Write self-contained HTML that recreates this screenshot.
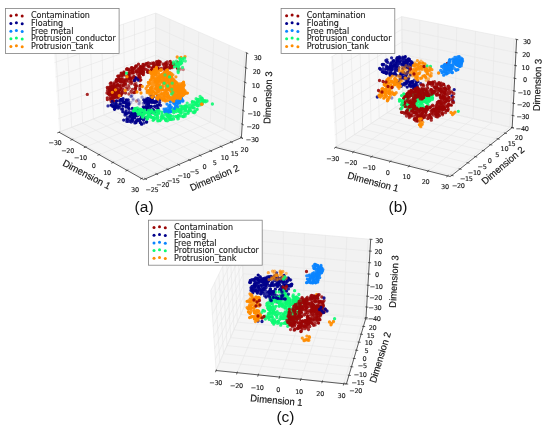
<!DOCTYPE html>
<html><head><meta charset="utf-8"><title>t-SNE 3D scatter</title>
<style>
html,body{margin:0;padding:0;background:#fff}
svg{display:block}
text{font-family:"DejaVu Sans","Liberation Sans",sans-serif;fill:#1a1a1a}
.tk{font-size:6.5px;text-anchor:middle;letter-spacing:-0.3px;stroke:#1a1a1a;stroke-width:0.15px}
.lg{font-size:8px;stroke:#1a1a1a;stroke-width:0.12px}
.al{font-family:"Liberation Sans",Arial,sans-serif;font-size:9.7px;fill:#111;text-anchor:middle;stroke:#111;stroke-width:0.15px}
.cap{font-family:"Liberation Sans",Arial,sans-serif;font-size:15.5px;fill:#111;text-anchor:middle}
</style></head><body>
<svg width="550" height="433" viewBox="0 0 550 433">
<rect width="550" height="433" fill="#fff"/>
<polygon points="59,132.2 155.4,95.1 155.7,13.1 53.7,47.8" fill="#f8f8f8"/>
<polygon points="155.4,95.1 241.4,137.7 246.7,52.9 155.7,13.1" fill="#f2f2f2"/>
<polygon points="59,132.2 143.6,179.6 241.4,137.7 155.4,95.1" fill="#f5f5f5"/>
<line x1="59" y1="132.2" x2="155.4" y2="95.1" stroke="#e6e6e6" stroke-width="0.6"/>
<line x1="155.4" y1="95.1" x2="155.7" y2="13.1" stroke="#e6e6e6" stroke-width="0.6"/>
<line x1="72.1" y1="139.6" x2="168.8" y2="101.7" stroke="#e6e6e6" stroke-width="0.6"/>
<line x1="168.8" y1="101.7" x2="169.8" y2="19.3" stroke="#e6e6e6" stroke-width="0.6"/>
<line x1="85.4" y1="147" x2="182.4" y2="108.4" stroke="#e6e6e6" stroke-width="0.6"/>
<line x1="182.4" y1="108.4" x2="184.2" y2="25.6" stroke="#e6e6e6" stroke-width="0.6"/>
<line x1="99.1" y1="154.7" x2="196.2" y2="115.3" stroke="#e6e6e6" stroke-width="0.6"/>
<line x1="196.2" y1="115.3" x2="198.8" y2="32" stroke="#e6e6e6" stroke-width="0.6"/>
<line x1="113" y1="162.4" x2="210.3" y2="122.3" stroke="#e6e6e6" stroke-width="0.6"/>
<line x1="210.3" y1="122.3" x2="213.8" y2="38.5" stroke="#e6e6e6" stroke-width="0.6"/>
<line x1="127.2" y1="170.4" x2="224.8" y2="129.4" stroke="#e6e6e6" stroke-width="0.6"/>
<line x1="224.8" y1="129.4" x2="229.1" y2="45.2" stroke="#e6e6e6" stroke-width="0.6"/>
<line x1="141.7" y1="178.5" x2="239.4" y2="136.7" stroke="#e6e6e6" stroke-width="0.6"/>
<line x1="239.4" y1="136.7" x2="244.7" y2="52" stroke="#e6e6e6" stroke-width="0.6"/>
<line x1="60.7" y1="131.6" x2="145.4" y2="178.8" stroke="#e6e6e6" stroke-width="0.6"/>
<line x1="60.7" y1="131.6" x2="55.5" y2="47.2" stroke="#e6e6e6" stroke-width="0.6"/>
<line x1="71.7" y1="127.3" x2="156.6" y2="174" stroke="#e6e6e6" stroke-width="0.6"/>
<line x1="71.7" y1="127.3" x2="67.2" y2="43.2" stroke="#e6e6e6" stroke-width="0.6"/>
<line x1="82.6" y1="123.1" x2="167.6" y2="169.3" stroke="#e6e6e6" stroke-width="0.6"/>
<line x1="82.6" y1="123.1" x2="78.7" y2="39.3" stroke="#e6e6e6" stroke-width="0.6"/>
<line x1="93.3" y1="119" x2="178.5" y2="164.6" stroke="#e6e6e6" stroke-width="0.6"/>
<line x1="93.3" y1="119" x2="90.1" y2="35.4" stroke="#e6e6e6" stroke-width="0.6"/>
<line x1="104" y1="114.9" x2="189.3" y2="160" stroke="#e6e6e6" stroke-width="0.6"/>
<line x1="104" y1="114.9" x2="101.4" y2="31.6" stroke="#e6e6e6" stroke-width="0.6"/>
<line x1="114.5" y1="110.9" x2="200" y2="155.4" stroke="#e6e6e6" stroke-width="0.6"/>
<line x1="114.5" y1="110.9" x2="112.5" y2="27.8" stroke="#e6e6e6" stroke-width="0.6"/>
<line x1="124.9" y1="106.9" x2="210.5" y2="150.9" stroke="#e6e6e6" stroke-width="0.6"/>
<line x1="124.9" y1="106.9" x2="123.5" y2="24.1" stroke="#e6e6e6" stroke-width="0.6"/>
<line x1="135.2" y1="102.9" x2="220.9" y2="146.4" stroke="#e6e6e6" stroke-width="0.6"/>
<line x1="135.2" y1="102.9" x2="134.4" y2="20.4" stroke="#e6e6e6" stroke-width="0.6"/>
<line x1="145.3" y1="99" x2="231.2" y2="142" stroke="#e6e6e6" stroke-width="0.6"/>
<line x1="145.3" y1="99" x2="145.1" y2="16.7" stroke="#e6e6e6" stroke-width="0.6"/>
<line x1="155.4" y1="95.1" x2="241.4" y2="137.7" stroke="#e6e6e6" stroke-width="0.6"/>
<line x1="155.4" y1="95.1" x2="155.7" y2="13.1" stroke="#e6e6e6" stroke-width="0.6"/>
<line x1="59" y1="132.2" x2="155.4" y2="95.1" stroke="#e6e6e6" stroke-width="0.6"/>
<line x1="155.4" y1="95.1" x2="241.4" y2="137.7" stroke="#e6e6e6" stroke-width="0.6"/>
<line x1="58.1" y1="118.8" x2="155.5" y2="82" stroke="#e6e6e6" stroke-width="0.6"/>
<line x1="155.5" y1="82" x2="242.2" y2="124.2" stroke="#e6e6e6" stroke-width="0.6"/>
<line x1="57.3" y1="105.1" x2="155.5" y2="68.7" stroke="#e6e6e6" stroke-width="0.6"/>
<line x1="155.5" y1="68.7" x2="243.1" y2="110.5" stroke="#e6e6e6" stroke-width="0.6"/>
<line x1="56.4" y1="91.2" x2="155.6" y2="55.2" stroke="#e6e6e6" stroke-width="0.6"/>
<line x1="155.6" y1="55.2" x2="244" y2="96.5" stroke="#e6e6e6" stroke-width="0.6"/>
<line x1="55.5" y1="77" x2="155.6" y2="41.4" stroke="#e6e6e6" stroke-width="0.6"/>
<line x1="155.6" y1="41.4" x2="244.9" y2="82.2" stroke="#e6e6e6" stroke-width="0.6"/>
<line x1="54.6" y1="62.6" x2="155.7" y2="27.4" stroke="#e6e6e6" stroke-width="0.6"/>
<line x1="155.7" y1="27.4" x2="245.8" y2="67.7" stroke="#e6e6e6" stroke-width="0.6"/>
<line x1="53.7" y1="47.8" x2="155.7" y2="13.1" stroke="#e6e6e6" stroke-width="0.6"/>
<line x1="155.7" y1="13.1" x2="246.7" y2="52.9" stroke="#e6e6e6" stroke-width="0.6"/>
<line x1="59" y1="132.2" x2="143.6" y2="179.6" stroke="#333" stroke-width="0.8"/>
<line x1="143.6" y1="179.6" x2="241.4" y2="137.7" stroke="#333" stroke-width="0.8"/>
<line x1="241.4" y1="137.7" x2="246.7" y2="52.9" stroke="#333" stroke-width="0.8"/>
<line x1="60.1" y1="131.8" x2="57.3" y2="132.9" stroke="#333" stroke-width="0.8"/>
<text class="tk" x="55" y="145.2">−30</text>
<line x1="73.2" y1="139.1" x2="70.4" y2="140.3" stroke="#333" stroke-width="0.8"/>
<text class="tk" x="67.6" y="152.6">−20</text>
<line x1="86.5" y1="146.6" x2="83.8" y2="147.8" stroke="#333" stroke-width="0.8"/>
<text class="tk" x="80.5" y="160">−10</text>
<line x1="100.2" y1="154.2" x2="97.4" y2="155.4" stroke="#333" stroke-width="0.8"/>
<text class="tk" x="93.7" y="167.7">0</text>
<line x1="114.1" y1="162" x2="111.3" y2="163.2" stroke="#333" stroke-width="0.8"/>
<text class="tk" x="107.1" y="175.4">10</text>
<line x1="128.3" y1="169.9" x2="125.5" y2="171.1" stroke="#333" stroke-width="0.8"/>
<text class="tk" x="120.9" y="183.4">20</text>
<line x1="142.8" y1="178" x2="140" y2="179.2" stroke="#333" stroke-width="0.8"/>
<text class="tk" x="134.9" y="191.5">30</text>
<line x1="144.3" y1="178.2" x2="146.9" y2="179.7" stroke="#333" stroke-width="0.8"/>
<text class="tk" x="151.9" y="192">−25</text>
<line x1="155.5" y1="173.4" x2="158.1" y2="174.9" stroke="#333" stroke-width="0.8"/>
<text class="tk" x="162.7" y="187.3">−20</text>
<line x1="166.6" y1="168.7" x2="169.2" y2="170.2" stroke="#333" stroke-width="0.8"/>
<text class="tk" x="173.3" y="182.6">−15</text>
<line x1="177.5" y1="164" x2="180.1" y2="165.5" stroke="#333" stroke-width="0.8"/>
<text class="tk" x="183.9" y="178">−10</text>
<line x1="188.3" y1="159.4" x2="190.9" y2="160.9" stroke="#333" stroke-width="0.8"/>
<text class="tk" x="194.3" y="173.5">−5</text>
<line x1="198.9" y1="154.8" x2="201.5" y2="156.3" stroke="#333" stroke-width="0.8"/>
<text class="tk" x="204.5" y="169">0</text>
<line x1="209.5" y1="150.3" x2="212.1" y2="151.8" stroke="#333" stroke-width="0.8"/>
<text class="tk" x="214.7" y="164.6">5</text>
<line x1="219.9" y1="145.9" x2="222.5" y2="147.3" stroke="#333" stroke-width="0.8"/>
<text class="tk" x="224.7" y="160.2">10</text>
<line x1="230.2" y1="141.4" x2="232.8" y2="142.9" stroke="#333" stroke-width="0.8"/>
<text class="tk" x="234.6" y="155.9">15</text>
<line x1="240.3" y1="137.1" x2="243" y2="138.5" stroke="#333" stroke-width="0.8"/>
<text class="tk" x="244.4" y="151.6">20</text>
<line x1="240.3" y1="137.1" x2="243" y2="138.5" stroke="#333" stroke-width="0.8"/>
<text class="tk" x="252.2" y="142.2">−30</text>
<line x1="241.2" y1="123.7" x2="243.8" y2="125" stroke="#333" stroke-width="0.8"/>
<text class="tk" x="253" y="129.1">−20</text>
<line x1="242" y1="109.9" x2="244.7" y2="111.3" stroke="#333" stroke-width="0.8"/>
<text class="tk" x="253.9" y="115.7">−10</text>
<line x1="242.9" y1="96" x2="245.6" y2="97.3" stroke="#333" stroke-width="0.8"/>
<text class="tk" x="254.8" y="102.1">0</text>
<line x1="243.8" y1="81.7" x2="246.5" y2="83" stroke="#333" stroke-width="0.8"/>
<text class="tk" x="255.7" y="88.3">10</text>
<line x1="244.7" y1="67.2" x2="247.4" y2="68.5" stroke="#333" stroke-width="0.8"/>
<text class="tk" x="256.6" y="74.1">20</text>
<line x1="245.7" y1="52.4" x2="248.3" y2="53.7" stroke="#333" stroke-width="0.8"/>
<text class="tk" x="257.5" y="59.7">30</text>
<text class="al" transform="translate(86.8,174.4) rotate(27.5)" y="3.45" textLength="52.5" lengthAdjust="spacingAndGlyphs">Dimension 1</text>
<text class="al" transform="translate(214.3,177.7) rotate(-23.6)" y="3.45" textLength="52.5" lengthAdjust="spacingAndGlyphs">Dimension 2</text>
<text class="al" transform="translate(267.8,97.7) rotate(-88)" y="3.45" textLength="52.5" lengthAdjust="spacingAndGlyphs">Dimension 3</text>
<g stroke="#9a0505" stroke-width="3.3" stroke-linecap="round" fill="none"><path stroke-opacity="0.4" d="M178.8 68.7h0"/><path stroke-opacity="0.45" d="M131.5 77h0M134 76.6h0M178.7 70.7h0M183.3 69.6h0M180.6 69.2h0M128.8 105.3h0M136.6 101h0"/><path stroke-opacity="0.5" d="M134.8 84.5h0M134 73h0M121.8 90.5h0M120.9 87.2h0M178.3 68.4h0"/><path stroke-opacity="0.55" d="M131.1 81.4h0M139.6 87.2h0M122.5 78.4h0"/><path stroke-opacity="0.6" d="M125.3 86.4h0M125.5 82.5h0M125.3 85.7h0M137.1 85.8h0M131.9 82.3h0"/><path stroke-opacity="0.65" d="M125.3 80.4h0M135.2 79.4h0M129.3 88.1h0M127.7 89.5h0M135.9 83.2h0"/><path stroke-opacity="0.7" d="M145.1 64.2h0M128.9 73.2h0M137.8 71.8h0M138.1 69h0M177 64.1h0M129.4 78.5h0M158.7 63.2h0M119.4 86.1h0M143.9 64.5h0M157.6 65.1h0M111.4 87h0M122.2 74.4h0M151.8 63.1h0M128.9 94h0M134.7 84.6h0M124.4 83.8h0M130.3 73.7h0"/><path stroke-opacity="0.75" d="M109.1 92.7h0M165.6 64.1h0M137.4 74h0M121.1 84.8h0M123.6 73.2h0M159.6 62.1h0M166.7 65.9h0M131.2 81.1h0M126.1 79.9h0M112.8 94.8h0M111.7 86.4h0M133.1 70.3h0M117.2 84.8h0M143.6 67.4h0M126.3 81h0M118.8 77.8h0M139.7 74.3h0M136.9 66.2h0M157.2 64.4h0M130 76.9h0M109.6 88.6h0M116.3 88.2h0M167.1 65.7h0M143.6 68.9h0M159.3 62.3h0M132.9 73.1h0M140.3 73.6h0M121.6 82.2h0M147.1 63.4h0M114.5 91h0M125 81.1h0M123.9 71.9h0M115.2 96h0M118.7 80.9h0M116.7 95.3h0M113.9 82.8h0M165 68.5h0M128.5 74h0M172.2 67.7h0M166 67.4h0M146.2 65.2h0M148.5 66.6h0M112.3 86.5h0M163 64h0M113.6 91.5h0M114.7 88.9h0M113.8 98.1h0M116.4 96.8h0M134.9 89h0M128.8 85.7h0M126.8 88.1h0M140.6 85.9h0"/><path stroke-opacity="0.8" d="M107.7 88.5h0M128.4 81.2h0M139.5 68.8h0M156.7 66h0M117.6 84.4h0M152.8 64.1h0M143.2 71.6h0M135.5 66.6h0M116.7 80.9h0M124.1 72.8h0M110.6 92.4h0M110.2 83.6h0M120.2 81.9h0M167.2 61.8h0M161.2 68.5h0M128 76.6h0M157.7 68.4h0M173.1 65h0M142.1 67.5h0M137.7 69.9h0M117 93h0M131.8 67.7h0M153.8 67.2h0M146.3 63.7h0M158.6 64.6h0M158 64.7h0M167.9 63.3h0M110.4 92.3h0M119.7 85.3h0M149.6 66.9h0M141.4 70.7h0M143.9 65.7h0M132.3 72.8h0M136.4 71.4h0M129.9 78.7h0M151.8 70.3h0M148.3 72.4h0M128.5 73.7h0M139.1 75.6h0M116.4 81.8h0M107.5 90.4h0M110.4 99.6h0M113 87.5h0M119 93.5h0M115.9 90.2h0M109.6 93.2h0M111.2 101.6h0M113.4 88.4h0M112.4 97h0M114.8 96.2h0M115 97.7h0M116.5 96.9h0M115.7 89.6h0M139.8 80.8h0M131.4 83.6h0M130.1 82.7h0M135.7 86.1h0M130.2 82.3h0M131 91.5h0M122.9 89.1h0M132.4 89.3h0M135.4 87.6h0M131.6 92.3h0"/><path stroke-opacity="0.85" d="M110.2 94.6h0M148.3 62.8h0M166.8 68.1h0M149.9 63.7h0M124.2 80h0M154.2 66.1h0M107.3 87.5h0M150.5 71h0M147.4 72h0M119.3 79h0M133.8 76.3h0M156.5 63.9h0M142.8 69.2h0M159.4 69.6h0M141.7 71.7h0M109.4 91.4h0M120.1 81.3h0M147.7 72h0M152 68.2h0M126.5 69.4h0M118.5 79.8h0M163.9 64.6h0M129 69.1h0M123.8 72.8h0M153.7 70.5h0M113.1 87.2h0M110.5 86.3h0M153.5 69.1h0M141.7 67.8h0M113.5 94h0M154.8 69.9h0M118.2 86.1h0M143.5 70.9h0M133.5 69.3h0M169.1 67.4h0M123.3 84.9h0M164.5 69.3h0M131.5 69.9h0M134.8 68.4h0M117.7 76.1h0M115.6 85.8h0M166.1 64.7h0M167.1 70.1h0M136.5 71.8h0M115.4 96.9h0M115.6 95.2h0M109.6 90.8h0M110.1 97.8h0M107 93h0M118.2 97.9h0M110 93.5h0M112.1 91.1h0M119.8 93h0M121.5 94h0M115.1 96.5h0M113.6 90.3h0M112.7 97.5h0M108.2 93.5h0M111.6 95h0M109 89.7h0M110.1 95.9h0M119.1 96.1h0M139.9 89.4h0M126.8 76.2h0M140.2 85.5h0M130.8 78.7h0M139.3 78.1h0M125.5 93h0M136.3 85.9h0M138 78.2h0M125.7 84.2h0M128.3 76.7h0M87.3 94.4h0"/><path stroke-opacity="0.9" d="M143.6 72.7h0M112.6 85.1h0M115.9 81h0M141.1 72.2h0M177.7 65h0M141 66.4h0M130.3 72.2h0M160.6 69.7h0M130.8 71.3h0M177.7 62.1h0M116.5 79.7h0M143 64.4h0M145.4 69.1h0M155.7 69.9h0M139.1 75.7h0M109.5 87.1h0M133.2 72.5h0M124.3 83.4h0M109.9 90.2h0M131.6 67.6h0M156.6 61.7h0M136.2 71.2h0M143 67.1h0M129.1 74.1h0M148.2 65.8h0M151.3 70.1h0M113.1 84.9h0M142.6 73.7h0M132.8 78.1h0M123.9 75h0M118.5 76.2h0M138.9 72.1h0M148.1 71h0M147.5 70.1h0M138.5 64.2h0M113.5 87.8h0M164 67.5h0M165.9 66.4h0M114.3 85.9h0M146.5 69.6h0M118.5 93.6h0M111.5 90.5h0M115.7 92.5h0M112.6 100.7h0M107.4 99.6h0M107.3 97.9h0M118.5 95.8h0M115.5 96.4h0M119.1 94.6h0M117.5 88.8h0M126.9 79h0M127.8 78.5h0M134.4 80.7h0M140.2 77.3h0"/><path stroke-opacity="0.95" d="M118.7 92h0M171.5 63.1h0M153.8 64.8h0M127.1 68.6h0M165.8 67.8h0M174.4 63.8h0M120.8 88h0M153.9 64.5h0M114.6 86.5h0M113.3 91h0M140.8 72.9h0M121.9 81.3h0M153.6 62.8h0M134.2 68.1h0M153.7 67.7h0M121.8 79.5h0M165.7 62.9h0M111.7 93.7h0M118.9 80.4h0M121.7 79h0M120 75.7h0M141.7 71h0M116.8 79.6h0M170.2 68.1h0M123 81.6h0M121.2 73.2h0M172 64.4h0M156.5 69.1h0M177.3 64.9h0M140.2 69.2h0M158.3 68.3h0M140.4 66.9h0M160.2 62h0M154.5 66.7h0M143.3 74.7h0M128.9 75.4h0M122 75.5h0M177.4 68.2h0M170.2 61.3h0M153.3 68.3h0M109.2 94.1h0M156.3 67.6h0M114.3 83.8h0M132.3 69.8h0M132.6 71.3h0M158.6 61.2h0M175 64.2h0M115.3 86.7h0M116.7 81.3h0M111.4 94.5h0M116.1 92h0M120.9 95.4h0M113.1 97.7h0M110.8 89.2h0M111.1 98.6h0M116.2 101.1h0M109 92.9h0M122.4 92.9h0M114.7 91.6h0M111.3 92.4h0M112.1 88.7h0M114.5 93.8h0M114.1 90.7h0M140.8 79.9h0M122.3 91.7h0M123.2 85.8h0M134 92.7h0M140.8 85.3h0"/><path d="M140.1 72.4h0M152.7 67.6h0M138.1 78.1h0M170.4 65h0M128.6 70h0M157.5 62.6h0M130.8 79.1h0M132.7 68.4h0M118.6 91.1h0M171.4 66.8h0M117.8 85h0M135 77.5h0M142.1 67.9h0M172.3 63.7h0M136 66h0M139.3 69h0M111 83h0M110.2 90h0M140.6 70.2h0M108.7 94h0M159.3 64.9h0M120.2 79.1h0M119.9 89.8h0M113.4 101h0M112.3 94h0M112.1 86.9h0M135.7 91.4h0M134.9 92.2h0M135.6 88.5h0"/></g><g stroke="#00008b" stroke-width="3.3" stroke-linecap="round" fill="none"><path stroke-opacity="0.25" d="M139.7 101.9h0M133.2 100.2h0"/><path stroke-opacity="0.3" d="M129.9 103.2h0M146 98.5h0M130.8 102.4h0M133 98.8h0"/><path stroke-opacity="0.35" d="M143.2 103.4h0M142.1 97.2h0"/><path stroke-opacity="0.4" d="M139.1 103.8h0M143.9 102.8h0M131.9 95.6h0M138.2 100h0"/><path stroke-opacity="0.45" d="M145.9 100.6h0"/><path stroke-opacity="0.5" d="M131.1 96.4h0"/><path stroke-opacity="0.75" d="M117.2 104.6h0M128.6 102.1h0M116 106.9h0M148.5 103.2h0M155.8 101.6h0M159.2 103.8h0M147.6 107.7h0M147.1 101.5h0M145.7 106.9h0M150.6 100.7h0M154.2 102.4h0M127.4 117.1h0M132.1 113.1h0M132.6 118.5h0M135.6 115.1h0M131.1 120.6h0M131.4 122.2h0M131.6 121.8h0M134.8 110h0"/><path stroke-opacity="0.8" d="M126.7 100.7h0M127.4 103.5h0M127.4 106.8h0M124.7 102.6h0M114.9 103.4h0M121.4 109.1h0M119 105.6h0M127.5 103.4h0M119.4 100.8h0M120.7 104.4h0M108 105.9h0M115.7 103h0M119.7 105.3h0M115.2 107.1h0M114.8 103.7h0M147.5 106.8h0M151 99.9h0M147.5 108.1h0M156.9 99.6h0M151 106.4h0M146.3 105.3h0M152.4 98.8h0M157.8 95.9h0M148.1 103.1h0M153.2 96.8h0M149 110.8h0M156.1 106.4h0M160.6 105.3h0M155.9 107.4h0M147 104.8h0M146 107h0M156.9 105.8h0M137.7 115.8h0M140.1 114.4h0M129.6 112.3h0M132.1 120.7h0M141.3 118.5h0M131.5 117.8h0M141.6 112.2h0M134.7 113.2h0M132.8 121h0M129.1 119.2h0M146.6 121.8h0M143.9 123.1h0M125 115h0M139.4 120.1h0M137.9 119.4h0M132.5 114.2h0"/><path stroke-opacity="0.85" d="M119.4 107.1h0M112.6 103.2h0M122.5 101.3h0M115.2 106h0M126.1 107.2h0M117.9 106.7h0M124.9 102.3h0M112.2 101.4h0M153.7 112.7h0M155.1 102.9h0M152.5 102.3h0M151 97.1h0M159.8 99.7h0M159.7 102.1h0M152.9 109.5h0M153 96.6h0M151.1 95.5h0M150.7 110.8h0M151.8 102.7h0M149 106.1h0M144.2 107.6h0M155.3 102.9h0M157.5 111.1h0M151 112.9h0M157.9 109.4h0M149.8 107.8h0M126.9 119.1h0M136 113.2h0M134.9 114.9h0M134.4 117.4h0M141.1 115.8h0M131.5 113.7h0M135.5 116h0M132.1 113.1h0M129.2 109.3h0M126.8 121.4h0M125.9 114.2h0M132.8 115.1h0"/><path stroke-opacity="0.9" d="M116.1 105.5h0M112.9 106.7h0M128.2 99.8h0M123.2 102.7h0M127.2 104.4h0M120.2 100.4h0M115.5 107.9h0M118.2 108h0M115.9 103.9h0M122.6 109.2h0M114.1 106.7h0M152.9 100.9h0M148 104.6h0M154.8 112h0M158.7 98.4h0M145.2 102.8h0M146.6 103h0M148.8 101.3h0M143.3 106.8h0M148.5 104.5h0M152.5 97.2h0M152.9 101.7h0M149 105.9h0M158.1 108.3h0M147.3 110.4h0M148.2 104.1h0M143.7 99.8h0M134.4 112.9h0M136.9 120.2h0M132.6 120h0M127.2 119.8h0M139.9 119.6h0M139.8 119.5h0M140.3 122.4h0M134.9 122.9h0M132.4 119.5h0M128 121.3h0M132.6 116.9h0M145.8 117.9h0M123.7 120.1h0M133.5 112.2h0M130.1 121.4h0M126.1 110.8h0M139.3 120.7h0M136 78h0M138 80h0M134.5 80.5h0"/><path stroke-opacity="0.95" d="M114.6 107.3h0M128.7 105.2h0M122.7 100.2h0M120.1 103.6h0M125.4 102.4h0M112.8 105.7h0M126.1 103.5h0M123.1 98.7h0M125.8 106.3h0M116.6 100.9h0M147.8 98.5h0M148.5 98.6h0M144.3 108.8h0M154.6 101.7h0M149.4 100.6h0M151.3 106.5h0M149 99.8h0M150.5 100.8h0M146.7 107.5h0M157.5 105.5h0M146.5 107.1h0M153.9 110.7h0M158.6 105.1h0M148.2 103.6h0M154.5 106.3h0M151.7 111h0M146.7 101.7h0M136.1 115.3h0M132.9 112.5h0M134.1 111.5h0M136 122.5h0M140.7 122.8h0M148.5 115.9h0M137.5 109.9h0M128.6 108.1h0M122.8 111.7h0M146.6 122h0M133.5 117.6h0M137.1 120.7h0M133.2 110.4h0M134.6 117.9h0M143.5 120h0M131.9 114.4h0M141.7 115h0M125 113h0M136 122.5h0M132.3 108.4h0M128.3 112.9h0"/><path d="M129 103.8h0M114.5 109.3h0M123.6 101.8h0M126.3 99.8h0M111.1 105.2h0M122.8 106.1h0M121 99.4h0M150.7 101.8h0M151.6 98.8h0M144.7 101.2h0M146.3 99.6h0M147.1 108.9h0M156.6 101.7h0M135.8 121.7h0M131 114.4h0M141.3 113.4h0M141.6 124.2h0M132.8 114.6h0M135.8 113.4h0M140.8 118.6h0M145.9 117.4h0M126.3 113.7h0M133.8 114.9h0M138.5 112.9h0M129.9 116.3h0"/></g><g stroke="#0cfa72" stroke-width="3.3" stroke-linecap="round" fill="none"><path stroke-opacity="0.8" d="M180.5 106h0M186.4 107.2h0M183 112h0M198 101.7h0M203.1 100.6h0M187.2 103.1h0M196.2 105.1h0M164.9 114.3h0M169.8 116h0M157 110.7h0M167.6 120.8h0M196.1 98.7h0M158.1 111.5h0M147 112.5h0M137.5 112h0M167 118.8h0M173.1 111.5h0M155.8 118.5h0M183.1 112h0M138.2 114.4h0M200.1 96.5h0M157.8 120.9h0M137.4 107.8h0"/><path stroke-opacity="0.85" d="M167.1 110.9h0M140.6 113.4h0M154.3 111.8h0M173.4 116.5h0M181.1 116h0M157.7 111.7h0M162.5 117.7h0M163.2 116h0M198.4 105.5h0M192 104.1h0M197 99.7h0M184.6 114.5h0M177.9 118.9h0M170.1 115.7h0M165.7 119.1h0M148.9 110.6h0M195 110.9h0M162 114.4h0M188.2 113.3h0M149.8 116.8h0M158.1 120.6h0M177.7 117.9h0M148.5 110.5h0M185.1 116.2h0M200.3 104.9h0M189.5 105.2h0M155.3 114.9h0M133.9 110.4h0M201.8 99.7h0M170 111.2h0M189.2 107h0M185.5 110.9h0M165.6 119.2h0M201.5 97.9h0M178.3 118.7h0M171.5 119.4h0M167.3 113.1h0M191.6 107.1h0M161.2 117.5h0M194.3 112.7h0M149.1 111.4h0M143.7 114.9h0M178.5 110.7h0M169.8 111.2h0M175.1 107.8h0M135.8 108.4h0M149.6 114h0M191.9 107.9h0M173.8 112.7h0M184.9 109.6h0M150.9 117h0"/><path stroke-opacity="0.9" d="M161.9 112.1h0M198.1 99.3h0M162.5 117.7h0M166.2 120.7h0M186.6 106h0M173.6 119.1h0M200.3 100.4h0M169.4 110.2h0M136 108.6h0M139.8 110.2h0M170.1 118.7h0M196.6 104.1h0M179.5 111h0M178.8 116.2h0M154.2 117.8h0M180.3 110.4h0M193.2 112.2h0M180.9 109.2h0M150.8 116.5h0M157 114.8h0M202.2 103.3h0M193.2 107.3h0M186 108h0M168.2 116.4h0M147.7 116.7h0M141.1 114.8h0M185.9 114.1h0M202.5 101.2h0M183.8 106.7h0M140.2 111.1h0M168.4 111.2h0M159.1 110.7h0M161.2 119.3h0M199.7 99.3h0M136 110.6h0M151.7 117.3h0M144.7 110.1h0M192.2 106.4h0M196.4 102.6h0M149.8 111.9h0M147 119h0M175.1 110.6h0M167.9 113.2h0M146 117.1h0M189.6 108.5h0M176.4 111.7h0M140.1 112.1h0M153.1 120.3h0M141.8 109.3h0M197 104.4h0M151.8 110.7h0M170.9 115.7h0M204.2 101.3h0M166.9 114h0M175.2 108.6h0M153.9 117.7h0M170.3 118.2h0M176 116.5h0M205.5 101.8h0M183.3 116.1h0M139.1 113.3h0M148.4 114.6h0M172.9 109.9h0M144.7 113.2h0M200.1 103.4h0M186.6 106.1h0M186.8 106.4h0M212.4 104h0M207 101h0"/><path stroke-opacity="0.95" d="M196 103.3h0M173.1 109.6h0M137.6 111.8h0M197.6 105.8h0M178.5 108.8h0M143.5 113.8h0M166.9 115.7h0M150.6 112.4h0M170.2 111.2h0M197.2 109.3h0M188.2 111.9h0M170 119.4h0M139.8 109.1h0M165.9 112h0M145.5 112.9h0M197.2 102.5h0M168.6 115h0M142.5 117h0M177 108.1h0M190.7 110.6h0M134.3 110.7h0M203.3 100.9h0M194 104.7h0M195.1 111.6h0M148.2 115.8h0M169.4 118.3h0M168.2 116.7h0M156.7 111.4h0M204.9 100.7h0M158.2 110.7h0M163.9 118.2h0M179.6 112.1h0M157.7 117.9h0M174.6 110.5h0M153.9 119.6h0M194.2 108.1h0M165.3 110.9h0M147.5 118.6h0M133.4 110.9h0M157.6 116.4h0M181.8 109.3h0M178.4 115.7h0M176.2 109.4h0M137.4 111.7h0M165.6 120h0M202.2 98.4h0M161.8 116h0M169.8 119.6h0M157.1 116.1h0M152.9 117.6h0"/><path d="M142.1 110.5h0M183.3 116.7h0M165.4 110.4h0M153.5 113.2h0M151.6 110.6h0M177.6 117h0M159.9 120.7h0M194 101.8h0M198.2 100.9h0M188.9 110.5h0M185.6 110.2h0M178.8 115.8h0M181.9 106.7h0M202.1 99.3h0M171.5 118.9h0M192.3 101.7h0M167.4 112.3h0M197.9 100h0M165.3 111.4h0M143.7 111.2h0M156.2 114.6h0M178.4 115.6h0M136.1 108.7h0M180.5 111h0M184.4 108.7h0M180.9 113.2h0M158.8 113.3h0M139 111.6h0M201.9 103.4h0M149.7 116.4h0M185.3 105.8h0M147.1 112.7h0M143.1 114.1h0M134.8 108.7h0"/></g><g stroke="#0a84ff" stroke-width="3.3" stroke-linecap="round" fill="none"><path stroke-opacity="0.8" d="M170.5 101.9h0M168.6 107.6h0M175.8 102h0M170.6 111.5h0M167.6 111.2h0M175.2 102.7h0"/><path stroke-opacity="0.85" d="M176.1 101.1h0M177 95.7h0M179.7 102.7h0M174.6 104.1h0M167.2 111.1h0M166.3 109.8h0M177.8 106.8h0M176.1 100.2h0M179.7 101.2h0M175.4 98.5h0M170 100.8h0M181.3 97.2h0M171.5 107.1h0M169.6 109.8h0M182.6 100.8h0M170.2 108.5h0"/><path stroke-opacity="0.9" d="M164.1 109.1h0M168.9 112h0M180 101.7h0M174.2 100.3h0M166.2 109h0M169 106.1h0M167 104.1h0M177 105.3h0M177.4 102.8h0M170.6 111.8h0"/><path stroke-opacity="0.95" d="M181.7 98.9h0M178.3 96.1h0M177.6 98.6h0M174.9 102.8h0M164.7 111.5h0M170.6 107.6h0M173.6 102.9h0M175.1 97.9h0M169.7 110.1h0M178 103.2h0M174.5 108.5h0M178.5 100.8h0M175.6 105.9h0M182.9 101h0M174.8 100.5h0"/><path d="M173.9 98.7h0M170 105.2h0M173.1 100.3h0M180.4 97.7h0M180.5 98.9h0M178.9 96h0M178.5 102.8h0M174.4 101.6h0M179 102.6h0"/></g><g stroke="#ff8c00" stroke-width="3.3" stroke-linecap="round" fill="none"><path stroke-opacity="0.85" d="M171.7 80.6h0M159.5 77.3h0M156.5 81.2h0M172.9 74.8h0M169 72.8h0M163.5 75.9h0M167.5 77.6h0M165.6 80h0M163 74h0M156.6 71.3h0M160.6 77h0M162.9 76h0M154.5 72.6h0M159.2 74.6h0M165.9 74.9h0M169.7 73.8h0M167.1 73.2h0M151.2 74.1h0M149.3 83.4h0M180.2 97.1h0M183.8 92.5h0M158.3 94.8h0M166.1 89.8h0M153.9 79h0M147.2 92.7h0M164 94h0M168 88.9h0M165.4 81.4h0M148.8 84.8h0M174.7 86h0M178 98.2h0M150.3 80.1h0M174.1 92.7h0M176.2 92.7h0M174.8 96.8h0M150.9 90h0M168.9 89.9h0M162.4 94.9h0M172.9 99.7h0M178.7 86.5h0M179.1 95.4h0M169.6 77.3h0M166 100.1h0M175.9 76.8h0M164.8 92.4h0M155.8 88.1h0M153.6 88.9h0M146 88.5h0M160 89.3h0M170.5 83.9h0M177.6 87.5h0M160.6 97.9h0M171.1 98.2h0M148.7 90.5h0M178.2 87.5h0M162.3 94h0M171.9 90.1h0M164.8 97.4h0M156.7 79.2h0M170.7 83.2h0M178.9 92.5h0M165.1 90.6h0M150.7 88.5h0M164 77.5h0M162.4 85.8h0M156.5 88.8h0M164.7 82.4h0"/><path stroke-opacity="0.9" d="M160.5 70h0M166.2 70.7h0M153.8 71.1h0M171.3 77.2h0M151.9 76.6h0M164.9 82.5h0M153.6 76.3h0M158 80h0M166.1 79.5h0M153.7 75.5h0M154.1 72.1h0M154.4 69.5h0M163.5 83.6h0M161.3 69.9h0M170.8 78.4h0M156.2 78.7h0M155.6 71.8h0M163.6 78.9h0M160.6 79.9h0M159.4 79.6h0M163.7 81.4h0M163.4 81.9h0M171.4 73.7h0M169.8 75.1h0M169.5 80.6h0M170.7 78h0M169.9 72.7h0M154.3 77.4h0M168.1 82.9h0M164.6 74.3h0M156 69.6h0M165.4 77.7h0M167.4 77.5h0M170.2 80.3h0M176.3 91.3h0M176.2 82.1h0M165.9 91.3h0M169.6 78.7h0M163.6 82h0M156.5 79.2h0M164.9 96.2h0M166 91h0M153.7 81.1h0M170.5 82.3h0M175.5 86.3h0M156.3 84h0M156.6 97.3h0M171.8 98h0M161.5 93.4h0M152.6 85.9h0M171.7 82.1h0M147.3 86.5h0M174.4 87.3h0M178.1 84.1h0M169.1 97.2h0M142.3 86.5h0M168.4 97h0M156.2 89.3h0M148.8 92.4h0M165.8 84.5h0M174.5 89.4h0M166.8 88.3h0M173.6 84h0M160.9 81.9h0M158.2 83.8h0M150.5 91.6h0M162.7 86.9h0M154.1 84h0M169.6 99.3h0M175 95h0M163.3 98.6h0M179.1 83.8h0M184.5 91.8h0M159.7 83.7h0M168.7 98.3h0M173.3 96.6h0M150.5 83.7h0M167.8 87.2h0M155.5 93.2h0M166.7 78.3h0M153.1 91.7h0M182.5 92.5h0M174.5 99.1h0M173.8 79.9h0M167.6 100.4h0M173.2 87.6h0M179.5 89.6h0M157.8 82.5h0M165.7 95.5h0M165.9 79.2h0M161.9 93.7h0M173.7 98.9h0M151.9 82.9h0M172.5 100h0M158.5 79.6h0M149.8 94.2h0M169.7 88.6h0M167.9 98.1h0M173.7 101.2h0M181.8 89.2h0M178.6 96.7h0M172 93.7h0M160.8 90.3h0M170.4 82.9h0M163.5 77.8h0M160.9 90h0M180.2 84h0M164.5 92.7h0M149.6 82.7h0M178 86.6h0M150.9 79.8h0M173.4 93.1h0M175.9 97.1h0M170 87.8h0M178.2 92.4h0M170.4 78.6h0M181 87.1h0M157.6 79.8h0M151.9 86.2h0M185 93.7h0M182.1 94.4h0M169.5 84h0M162.3 97.4h0M178.7 90.1h0M171.6 91.6h0M156.2 89h0M171.8 86.1h0M163.1 89.6h0M183.7 85.7h0M155.7 85.8h0M163.2 82.2h0M159.4 86.8h0M158.6 96.7h0M165.4 101.1h0M179.5 87.4h0M182.8 92.8h0M172.7 91.7h0M183 88.9h0M180.2 89.4h0M181.8 90.7h0M181.8 95.1h0M176.9 96.3h0M182.5 95.7h0M172 90.7h0M180.7 93.8h0M184.9 90.7h0M181.6 93.9h0M178.6 88.1h0M177.5 97.7h0M181.4 87.8h0M177.2 57h0M185 56.6h0M181 57.5h0"/><path stroke-opacity="0.95" d="M165.9 72.3h0M152.1 74.2h0M161.9 74.4h0M165.4 72.6h0M156.1 70.2h0M158.4 72.8h0M170.7 76.9h0M163.6 82.8h0M167.2 70.3h0M152.5 77.7h0M157.1 75.8h0M160.7 75.2h0M172.7 79.3h0M162.8 75.3h0M156.6 69.2h0M160.7 76h0M170.3 75.8h0M156 69h0M157.9 71.1h0M160 76.8h0M156.4 71.2h0M167.6 75.4h0M161.7 76.7h0M157.3 71.9h0M157.7 77.1h0M169.3 72.9h0M165.4 73.1h0M162.5 74.7h0M160.1 76.2h0M155.1 74.5h0M156.4 67.3h0M171.4 76.2h0M153 71.8h0M162.9 78.9h0M169.3 96.8h0M180.3 98.5h0M175.2 81.6h0M149.6 90.1h0M172.2 92.5h0M164.8 75.4h0M155.8 93.5h0M165.4 83.9h0M153.6 95.6h0M180 89.5h0M156.9 91.4h0M169.4 87h0M153.4 91.4h0M176.2 94.8h0M166.5 87h0M159.7 95.2h0M174.7 81.2h0M155.8 80.8h0M172.2 89.1h0M152.9 77.5h0M162.4 82h0M161.7 79.9h0M182.4 87h0M173.5 100h0M168 81.5h0M178.2 97h0M180 89.1h0M165.8 86.4h0M151.7 96.8h0M176.9 83.3h0M147.2 91.1h0M179.1 95.8h0M155.1 82.1h0M157.5 97.7h0M168.6 95.6h0M156.5 82h0M157.2 81.2h0M162.9 100.1h0M172.5 80.2h0M176.7 90.8h0M178.6 92.7h0M150.2 90.7h0M181 96.3h0M178.3 85.7h0M167.3 97.2h0M171.8 81.3h0M152.3 93.8h0M166.5 92.2h0M156.6 85.4h0M169.5 84.2h0M151.2 93.6h0M161.6 88.6h0M164.3 82.7h0M151.9 78.4h0M177.4 87.6h0M174.6 97.3h0M159.3 89.2h0M174.7 96.2h0M183.3 85.9h0M169.4 89.9h0M166.3 89h0M178.1 89.5h0M173.7 95.8h0M160.5 94.3h0M172.1 78h0M169.3 84.7h0M177.6 88.2h0M185.2 91.8h0M167.8 93.3h0M169.3 97.2h0M172.8 93.8h0M151.2 88.9h0M175.6 98.1h0M160.1 78.1h0M174.6 86.7h0M171.9 88.3h0M164.9 99.7h0M151.9 87.7h0M159.5 96.4h0M185.4 93.2h0M150.2 90.3h0M159.5 86.2h0M172.1 80.9h0M168.8 85.7h0M176.8 87.8h0M166.3 90.1h0M158.9 85.5h0M171.1 91.6h0M162 98.7h0M171.7 82.3h0M183.5 83.5h0M148.3 82.5h0M180.1 90.7h0M181.7 85.7h0M175.8 90.4h0M175.4 95.8h0M173.8 89.4h0M174.3 89.3h0M175.6 95.6h0M183.1 87.7h0M183.6 94.8h0M181.3 87.6h0M180.4 96.8h0M178.1 94.5h0M173.9 92.4h0M183.1 91.3h0M183.3 90.1h0M177 86.2h0M177.1 97.5h0M175.1 88.3h0M182.4 92.7h0M178.9 87.3h0M175.5 86.1h0M179.8 91.8h0M174.5 96.5h0M112.3 92.3h0M115.5 89.8h0M119.3 95.7h0M125.3 90.5h0M127 76.7h0M201.8 104.2h0M141 93h0M137 92h0"/><path d="M157.7 81.9h0M161.3 70.1h0M167.4 70h0M164.3 72.4h0M164.7 80.6h0M152.5 74h0M164.5 75.8h0M157.4 82.5h0M161.1 76h0M152.1 77.3h0M156.1 74h0M158.9 79.9h0M168.1 74.2h0M173.7 79.9h0M155 71.7h0M160.6 70.3h0M150.1 72h0M166.6 79.1h0M151.8 72.8h0M167.1 77.1h0M176.7 89.9h0M164.1 95.6h0M152.4 97.3h0M184.1 84.9h0M180.3 86.8h0M159.5 88.5h0M171.8 97.9h0M158 99h0M157.4 81.8h0M181.1 85.3h0M157.1 98.3h0M167.2 94.1h0M178.6 86.1h0M182.4 83.4h0M173.4 82.4h0M173.3 94.1h0M173.7 94.3h0M167.6 79.7h0M179.2 95.2h0M172.8 94.2h0M150.5 87.8h0M158.4 90.9h0M170.8 89h0M158.6 77.8h0M149.4 90.9h0M150.7 92.5h0M172.6 81.8h0M174.8 95.4h0M156.1 93.6h0M152.7 91.8h0M176.4 95.7h0M171.4 80.1h0M163.5 99.8h0M157.2 79.5h0M173.6 84.6h0M162.5 89.8h0M174.9 96.6h0M148.7 90.9h0M157.4 88h0M155.3 80.1h0M172.8 80.1h0M156.7 81.9h0M158.5 91.8h0M177.3 89h0M174.6 83.8h0M159.1 81h0M183.5 82.2h0M155.8 88.4h0M183.1 88.7h0M179.4 95.3h0M180.8 89.9h0M180.8 93.3h0M178.6 92.4h0M179.2 92.9h0M183 88.7h0M176.2 88.9h0M187.4 93.1h0M182.4 86.6h0"/></g><g stroke="#0cfa72" stroke-width="3.3" stroke-linecap="round" fill="none"><path stroke-opacity="0.65" d="M171.8 89.3h0M165 75h0M172.8 92.5h0"/><path stroke-opacity="0.7" d="M171.5 94.2h0"/><path stroke-opacity="0.75" d="M178 71h0M183.1 58.4h0M185.3 61.1h0M178.5 66.4h0M173.4 63.7h0M178.5 68.9h0M160.7 87.3h0M172.2 83.2h0"/><path stroke-opacity="0.8" d="M176.7 63.2h0M184.6 58.2h0M182.5 67.4h0M176.3 61.2h0"/><path stroke-opacity="0.85" d="M182.4 59.3h0M178.2 72.6h0M173.6 61.8h0M182.5 60.9h0M178.6 66.1h0M176.7 65h0M167.6 86h0M164.1 83.2h0"/><path stroke-opacity="0.9" d="M180.6 61h0M177.7 66.7h0M174.5 66.8h0M126.5 73.2h0M169.6 76.9h0"/><path stroke-opacity="0.95" d="M181.6 63.1h0M179.5 62.1h0M177.9 64.5h0M179.8 58.5h0"/><path d="M176.6 63.9h0M180.3 64.2h0"/></g><g stroke="#ff8c00" stroke-width="3.3" stroke-linecap="round" fill="none"><path stroke-opacity="0.95" d="M201.8 104.2h0"/></g>
<rect x="5.4" y="8.4" width="113.7" height="45" fill="#fff" stroke="#808080" stroke-width="0.8"/>
<circle cx="10.9" cy="15.8" r="1.5" fill="#9a0505"/>
<circle cx="16.4" cy="15" r="1.5" fill="#9a0505"/>
<circle cx="22.2" cy="16" r="1.5" fill="#9a0505"/>
<text class="lg" x="31" y="18.3">Contamination</text>
<circle cx="10.9" cy="23.5" r="1.5" fill="#00008b"/>
<circle cx="16.4" cy="22.7" r="1.5" fill="#00008b"/>
<circle cx="22.2" cy="23.7" r="1.5" fill="#00008b"/>
<text class="lg" x="31" y="26">Floating</text>
<circle cx="10.9" cy="31.2" r="1.5" fill="#0a84ff"/>
<circle cx="16.4" cy="30.4" r="1.5" fill="#0a84ff"/>
<circle cx="22.2" cy="31.4" r="1.5" fill="#0a84ff"/>
<text class="lg" x="31" y="33.7">Free metal</text>
<circle cx="10.9" cy="38.8" r="1.5" fill="#0cfa72"/>
<circle cx="16.4" cy="38" r="1.5" fill="#0cfa72"/>
<circle cx="22.2" cy="39" r="1.5" fill="#0cfa72"/>
<text class="lg" x="31" y="41.3">Protrusion_conductor</text>
<circle cx="10.9" cy="46.5" r="1.5" fill="#ff8c00"/>
<circle cx="16.4" cy="45.7" r="1.5" fill="#ff8c00"/>
<circle cx="22.2" cy="46.7" r="1.5" fill="#ff8c00"/>
<text class="lg" x="31" y="49">Protrusion_tank</text>
<text class="cap" x="144.1" y="211.8">(a)</text>
<polygon points="335.4,147.4 402.8,102.4 401.7,16.6 330.7,57.3" fill="#f8f8f8"/>
<polygon points="402.8,102.4 512.2,127.6 516.6,39.4 401.7,16.6" fill="#f2f2f2"/>
<polygon points="335.4,147.4 450.3,176.6 512.2,127.6 402.8,102.4" fill="#f5f5f5"/>
<line x1="335.4" y1="147.4" x2="402.8" y2="102.4" stroke="#e6e6e6" stroke-width="0.6"/>
<line x1="402.8" y1="102.4" x2="401.7" y2="16.6" stroke="#e6e6e6" stroke-width="0.6"/>
<line x1="353.5" y1="152" x2="420" y2="106.4" stroke="#e6e6e6" stroke-width="0.6"/>
<line x1="420" y1="106.4" x2="419.8" y2="20.2" stroke="#e6e6e6" stroke-width="0.6"/>
<line x1="371.8" y1="156.6" x2="437.5" y2="110.4" stroke="#e6e6e6" stroke-width="0.6"/>
<line x1="437.5" y1="110.4" x2="438.1" y2="23.8" stroke="#e6e6e6" stroke-width="0.6"/>
<line x1="390.4" y1="161.3" x2="455.2" y2="114.5" stroke="#e6e6e6" stroke-width="0.6"/>
<line x1="455.2" y1="114.5" x2="456.7" y2="27.5" stroke="#e6e6e6" stroke-width="0.6"/>
<line x1="409.2" y1="166.1" x2="473.1" y2="118.6" stroke="#e6e6e6" stroke-width="0.6"/>
<line x1="473.1" y1="118.6" x2="475.5" y2="31.2" stroke="#e6e6e6" stroke-width="0.6"/>
<line x1="428.3" y1="171" x2="491.3" y2="122.8" stroke="#e6e6e6" stroke-width="0.6"/>
<line x1="491.3" y1="122.8" x2="494.6" y2="35" stroke="#e6e6e6" stroke-width="0.6"/>
<line x1="447.7" y1="175.9" x2="509.7" y2="127" stroke="#e6e6e6" stroke-width="0.6"/>
<line x1="509.7" y1="127" x2="514" y2="38.9" stroke="#e6e6e6" stroke-width="0.6"/>
<line x1="337.1" y1="146.3" x2="451.8" y2="175.4" stroke="#e6e6e6" stroke-width="0.6"/>
<line x1="337.1" y1="146.3" x2="332.5" y2="56.3" stroke="#e6e6e6" stroke-width="0.6"/>
<line x1="345.8" y1="140.5" x2="459.8" y2="169" stroke="#e6e6e6" stroke-width="0.6"/>
<line x1="345.8" y1="140.5" x2="341.7" y2="51" stroke="#e6e6e6" stroke-width="0.6"/>
<line x1="354.4" y1="134.7" x2="467.7" y2="162.8" stroke="#e6e6e6" stroke-width="0.6"/>
<line x1="354.4" y1="134.7" x2="350.8" y2="45.8" stroke="#e6e6e6" stroke-width="0.6"/>
<line x1="362.8" y1="129.1" x2="475.5" y2="156.6" stroke="#e6e6e6" stroke-width="0.6"/>
<line x1="362.8" y1="129.1" x2="359.6" y2="40.7" stroke="#e6e6e6" stroke-width="0.6"/>
<line x1="371.1" y1="123.6" x2="483.1" y2="150.6" stroke="#e6e6e6" stroke-width="0.6"/>
<line x1="371.1" y1="123.6" x2="368.4" y2="35.7" stroke="#e6e6e6" stroke-width="0.6"/>
<line x1="379.2" y1="118.2" x2="490.6" y2="144.7" stroke="#e6e6e6" stroke-width="0.6"/>
<line x1="379.2" y1="118.2" x2="376.9" y2="30.8" stroke="#e6e6e6" stroke-width="0.6"/>
<line x1="387.2" y1="112.8" x2="497.9" y2="138.9" stroke="#e6e6e6" stroke-width="0.6"/>
<line x1="387.2" y1="112.8" x2="385.3" y2="26" stroke="#e6e6e6" stroke-width="0.6"/>
<line x1="395.1" y1="107.6" x2="505.1" y2="133.2" stroke="#e6e6e6" stroke-width="0.6"/>
<line x1="395.1" y1="107.6" x2="393.6" y2="21.3" stroke="#e6e6e6" stroke-width="0.6"/>
<line x1="402.8" y1="102.4" x2="512.2" y2="127.6" stroke="#e6e6e6" stroke-width="0.6"/>
<line x1="402.8" y1="102.4" x2="401.7" y2="16.6" stroke="#e6e6e6" stroke-width="0.6"/>
<line x1="335.4" y1="147.4" x2="402.8" y2="102.4" stroke="#e6e6e6" stroke-width="0.6"/>
<line x1="402.8" y1="102.4" x2="512.2" y2="127.6" stroke="#e6e6e6" stroke-width="0.6"/>
<line x1="334.8" y1="135.1" x2="402.7" y2="90.7" stroke="#e6e6e6" stroke-width="0.6"/>
<line x1="402.7" y1="90.7" x2="512.8" y2="115.5" stroke="#e6e6e6" stroke-width="0.6"/>
<line x1="334.1" y1="122.6" x2="402.5" y2="78.7" stroke="#e6e6e6" stroke-width="0.6"/>
<line x1="402.5" y1="78.7" x2="513.4" y2="103.3" stroke="#e6e6e6" stroke-width="0.6"/>
<line x1="333.5" y1="109.9" x2="402.4" y2="66.7" stroke="#e6e6e6" stroke-width="0.6"/>
<line x1="402.4" y1="66.7" x2="514" y2="90.9" stroke="#e6e6e6" stroke-width="0.6"/>
<line x1="332.8" y1="97" x2="402.2" y2="54.4" stroke="#e6e6e6" stroke-width="0.6"/>
<line x1="402.2" y1="54.4" x2="514.6" y2="78.3" stroke="#e6e6e6" stroke-width="0.6"/>
<line x1="332.1" y1="84" x2="402" y2="42" stroke="#e6e6e6" stroke-width="0.6"/>
<line x1="402" y1="42" x2="515.3" y2="65.5" stroke="#e6e6e6" stroke-width="0.6"/>
<line x1="331.4" y1="70.7" x2="401.9" y2="29.4" stroke="#e6e6e6" stroke-width="0.6"/>
<line x1="401.9" y1="29.4" x2="515.9" y2="52.5" stroke="#e6e6e6" stroke-width="0.6"/>
<line x1="330.7" y1="57.3" x2="401.7" y2="16.6" stroke="#e6e6e6" stroke-width="0.6"/>
<line x1="401.7" y1="16.6" x2="516.6" y2="39.4" stroke="#e6e6e6" stroke-width="0.6"/>
<line x1="335.4" y1="147.4" x2="450.3" y2="176.6" stroke="#333" stroke-width="0.8"/>
<line x1="450.3" y1="176.6" x2="512.2" y2="127.6" stroke="#333" stroke-width="0.8"/>
<line x1="512.2" y1="127.6" x2="516.6" y2="39.4" stroke="#333" stroke-width="0.8"/>
<line x1="336.4" y1="146.7" x2="334" y2="148.5" stroke="#333" stroke-width="0.8"/>
<text class="tk" x="332.6" y="160.6">−30</text>
<line x1="354.4" y1="151.2" x2="352.1" y2="153.1" stroke="#333" stroke-width="0.8"/>
<text class="tk" x="350.7" y="165.2">−20</text>
<line x1="372.7" y1="155.9" x2="370.4" y2="157.7" stroke="#333" stroke-width="0.8"/>
<text class="tk" x="369" y="169.8">−10</text>
<line x1="391.3" y1="160.6" x2="389" y2="162.5" stroke="#333" stroke-width="0.8"/>
<text class="tk" x="387.6" y="174.5">0</text>
<line x1="410.1" y1="165.4" x2="407.8" y2="167.2" stroke="#333" stroke-width="0.8"/>
<text class="tk" x="406.4" y="179.3">10</text>
<line x1="429.2" y1="170.2" x2="426.9" y2="172.1" stroke="#333" stroke-width="0.8"/>
<text class="tk" x="425.5" y="184.2">20</text>
<line x1="448.6" y1="175.2" x2="446.3" y2="177" stroke="#333" stroke-width="0.8"/>
<text class="tk" x="444.9" y="189.1">30</text>
<line x1="450.6" y1="175.1" x2="453.5" y2="175.8" stroke="#333" stroke-width="0.8"/>
<text class="tk" x="458.3" y="187.7">−20</text>
<line x1="458.7" y1="168.7" x2="461.6" y2="169.4" stroke="#333" stroke-width="0.8"/>
<text class="tk" x="466.3" y="181.3">−15</text>
<line x1="466.6" y1="162.5" x2="469.5" y2="163.2" stroke="#333" stroke-width="0.8"/>
<text class="tk" x="474.2" y="175.1">−10</text>
<line x1="474.3" y1="156.3" x2="477.2" y2="157.1" stroke="#333" stroke-width="0.8"/>
<text class="tk" x="482" y="168.9">−5</text>
<line x1="481.9" y1="150.3" x2="484.8" y2="151.1" stroke="#333" stroke-width="0.8"/>
<text class="tk" x="489.6" y="162.9">0</text>
<line x1="489.4" y1="144.4" x2="492.3" y2="145.1" stroke="#333" stroke-width="0.8"/>
<text class="tk" x="497.1" y="157">5</text>
<line x1="496.7" y1="138.6" x2="499.6" y2="139.3" stroke="#333" stroke-width="0.8"/>
<text class="tk" x="504.4" y="151.2">10</text>
<line x1="503.9" y1="132.9" x2="506.8" y2="133.6" stroke="#333" stroke-width="0.8"/>
<text class="tk" x="511.6" y="145.5">15</text>
<line x1="511" y1="127.3" x2="513.9" y2="128.1" stroke="#333" stroke-width="0.8"/>
<text class="tk" x="518.7" y="139.9">20</text>
<line x1="511" y1="127.3" x2="513.9" y2="128" stroke="#333" stroke-width="0.8"/>
<text class="tk" x="522.2" y="131.2">−40</text>
<line x1="511.6" y1="115.3" x2="514.5" y2="115.9" stroke="#333" stroke-width="0.8"/>
<text class="tk" x="522.8" y="119.3">−30</text>
<line x1="512.2" y1="103" x2="515.1" y2="103.7" stroke="#333" stroke-width="0.8"/>
<text class="tk" x="523.4" y="107.2">−20</text>
<line x1="512.8" y1="90.6" x2="515.8" y2="91.3" stroke="#333" stroke-width="0.8"/>
<text class="tk" x="524.1" y="94.9">−10</text>
<line x1="513.5" y1="78" x2="516.4" y2="78.7" stroke="#333" stroke-width="0.8"/>
<text class="tk" x="524.8" y="82.4">0</text>
<line x1="514.1" y1="65.2" x2="517" y2="65.9" stroke="#333" stroke-width="0.8"/>
<text class="tk" x="525.4" y="69.8">10</text>
<line x1="514.8" y1="52.2" x2="517.7" y2="52.9" stroke="#333" stroke-width="0.8"/>
<text class="tk" x="526.1" y="57">20</text>
<line x1="515.4" y1="39.1" x2="518.3" y2="39.8" stroke="#333" stroke-width="0.8"/>
<text class="tk" x="526.8" y="44">30</text>
<text class="al" transform="translate(373.2,181.8) rotate(15)" y="3.45" textLength="52.5" lengthAdjust="spacingAndGlyphs">Dimension 1</text>
<text class="al" transform="translate(502.8,165.3) rotate(-40.4)" y="3.45" textLength="52.5" lengthAdjust="spacingAndGlyphs">Dimension 2</text>
<text class="al" transform="translate(537.2,85) rotate(-88)" y="3.45" textLength="52.5" lengthAdjust="spacingAndGlyphs">Dimension 3</text>
<g stroke="#00008b" stroke-width="3.3" stroke-linecap="round" fill="none"><path stroke-opacity="0.4" d="M391.8 98h0"/><path stroke-opacity="0.7" d="M402.3 76.9h0M403.5 77.9h0M394.8 72.9h0M399.8 75.8h0M402.8 68.4h0"/><path stroke-opacity="0.75" d="M393.2 61.1h0M394.4 64.5h0M390 66.5h0M408.2 59.3h0M396.5 59.1h0M386.7 61.3h0M403.1 58.4h0M412.4 62.6h0M388.4 70.2h0M399.8 58h0M386.8 72.2h0M402.4 74.7h0M405.4 66h0M400.7 75.4h0M405.1 66.7h0M401.6 75.5h0M403.5 78h0M406 79.9h0M414 86h0M414.3 85.6h0M414.2 80.2h0M405.6 82.7h0M414.4 87.9h0M417.2 87.2h0M408.7 78h0M411.5 81.8h0"/><path stroke-opacity="0.8" d="M400.3 59.2h0M409.3 65.7h0M389.6 73.6h0M403.8 64.1h0M390.3 68.4h0M392 63h0M393.1 62.5h0M397.3 58.5h0M387.3 67h0M386.6 73h0M406.7 61.4h0M396.1 61.7h0M404.1 65h0M387.3 66.9h0M406.9 64.3h0M392.5 69h0M401.3 59h0M382.5 64.6h0M398.5 69.4h0M398.7 67.3h0M403 69h0M400.1 79.2h0M401.5 72.8h0M405.2 66.6h0M404.4 73.9h0M406.2 67.5h0M399.6 75.8h0M411.6 84.7h0M405 85h0M401.3 86.3h0M417.3 85.4h0M420.7 83.7h0M404 83.5h0M411.1 82h0M407.7 79.9h0M410.9 83.6h0M397.6 83.3h0M416.1 82.1h0M407.6 80.8h0"/><path stroke-opacity="0.85" d="M397.5 60.8h0M384.6 70h0M406.9 59.8h0M390.4 64.3h0M386.2 65.9h0M404.1 63.3h0M383.1 68.6h0M410.5 66.7h0M389.4 67.6h0M393.9 60.6h0M390.8 71h0M402.2 65.3h0M383.3 72h0M387.7 62.4h0M406 63.3h0M392.1 69.4h0M386.3 61.1h0M385.9 60.4h0M400.4 63.9h0M386.9 59.8h0M391.6 57.8h0M400 61.4h0M384.5 72h0M382.3 64.3h0M408.9 68.4h0M403.3 77.7h0M394.7 73.6h0M389.9 72.4h0M401.7 74h0M404 72.9h0M415.7 86.6h0M414.9 85.5h0M406.7 82h0M414.1 84.1h0M407.7 80.8h0M407 81.6h0M411.8 86.3h0M410.8 86.7h0M408.1 79h0M416.7 82.4h0"/><path stroke-opacity="0.9" d="M394.9 64.8h0M383.8 64.3h0M386.2 68.5h0M396.4 66.8h0M391.3 63.4h0M404.7 59.5h0M387.4 67.6h0M407.5 62.9h0M392.2 66.9h0M403.7 63.3h0M406.2 61.8h0M395 65.9h0M387.3 67.1h0M397.7 60.4h0M402.6 60.8h0M402.3 64h0M407.5 66.8h0M386.3 73.5h0M394.7 66.9h0M390.6 66.5h0M395.3 66.5h0M384.2 72.6h0M380.6 69.4h0M402.8 57.1h0M395.8 63.4h0M391.1 62.8h0M405.5 61.2h0M399.3 58.2h0M406.5 73.8h0M395.2 73.7h0M395.3 71h0M393.4 74.2h0M390.4 75.7h0M400.7 75.5h0M405.5 77.5h0M415.7 84.7h0M411.8 82.3h0M409.3 82.2h0M403.2 84.6h0M410.1 85.3h0M409.8 82.6h0M412.4 82.7h0M407.5 82h0M396.6 81.8h0M416.7 89h0M453 101h0M454.2 89.6h0M452 96h0M377.3 97h0"/><path stroke-opacity="0.95" d="M399.7 62.1h0M408.2 67.1h0M396.8 62.6h0M396.2 65.4h0M382.3 71.7h0M411.9 64.3h0M404 64.7h0M397.3 60.7h0M405 65.2h0M412.1 63.2h0M409.4 59.3h0M397.2 57.6h0M386.2 72.3h0M410.4 63.9h0M393.8 65.7h0M390.8 66.4h0M379.6 68.5h0M411.2 61.7h0M383 65.1h0M408.5 67.6h0M387.9 69.1h0M399.3 56.8h0M391.3 70.2h0M403.9 62.1h0M391.5 67.9h0M397.7 64.5h0M390 68.1h0M395.5 68.9h0M402.8 72h0M396.4 75.2h0M403.3 73h0M410.2 74.9h0M397.7 70.3h0M405.7 76.1h0M396.9 67.2h0M404.8 77.3h0M409.4 70.7h0M406.4 74.8h0M392.4 73.8h0M412.3 85.8h0M407.2 87.1h0M406.7 83.3h0M417.9 81.7h0M398.5 82h0M412.5 81.6h0M409.4 85.1h0M414.1 85.6h0M400.5 84.2h0M405.7 83.3h0M400.8 79.1h0"/><path d="M406.5 60.6h0M407 62.2h0M408.5 58.8h0M390.1 74.4h0M393.3 61h0M392 65.9h0M409 60.9h0M405.3 56.7h0M404.5 64.7h0M406.1 62.7h0M406.4 65.3h0M406.8 65h0M390.8 73.3h0M407.5 72.5h0M402.7 77.9h0M400.8 73.2h0M412.5 82.1h0M413.7 88.5h0M410.5 82.7h0"/></g><g stroke="#ff8c00" stroke-width="3.3" stroke-linecap="round" fill="none"><path stroke-opacity="0.4" d="M407 73h0M405.9 73.7h0M406.9 78.5h0M402.8 80.4h0M408.7 66.8h0M393.5 79.9h0M411.5 71.4h0"/><path stroke-opacity="0.45" d="M409.8 70.1h0M402.2 72h0M399.3 71.5h0M405.1 77.8h0M400.2 78.4h0M399.3 68.2h0M400.9 81.4h0M416.1 74.6h0M406 65.7h0M404 69.6h0"/><path stroke-opacity="0.5" d="M402.8 71.3h0M395.4 79.5h0M401.9 67.3h0M414.7 75.7h0"/><path stroke-opacity="0.55" d="M410.1 73.1h0M403.9 72.6h0M395.2 76.6h0M409 76.3h0"/><path stroke-opacity="0.6" d="M404.4 68h0M410.7 67.9h0M410.2 72.1h0M412.7 70.1h0M412.5 73.8h0M395 83h0M399.3 70.4h0M406.1 70h0"/><path stroke-opacity="0.65" d="M416.6 73.2h0M416.8 70.2h0M401.1 80.8h0"/><path stroke-opacity="0.7" d="M398.4 76.3h0M395.7 78.7h0M405.3 78.1h0M398.4 75.8h0M402 70.6h0M400.2 76.7h0"/></g><g stroke="#0cfa72" stroke-width="3.3" stroke-linecap="round" fill="none"><path stroke-opacity="0.8" d="M428.9 101.2h0M404.6 105.8h0M417.8 95h0M410.3 95.8h0M414.9 104.3h0M420.7 107.7h0M403.9 99.1h0M426.7 95.3h0M415.3 93.6h0M425.4 97.2h0M404.2 105.6h0M416.6 102h0M412.3 107.6h0M426.5 96.4h0M405.1 104.4h0M415.9 108.9h0M417.4 110h0M411.8 101.9h0"/><path stroke-opacity="0.85" d="M407.7 103.7h0M406.9 99h0M426.6 99.6h0M422.8 105.5h0M408.9 109.9h0M431.6 95.5h0M422.5 104.9h0M412.8 107.6h0M426.6 95.8h0M426.4 92.3h0M407.5 107.6h0M422 103.8h0M413.5 100.3h0M415.7 93.2h0M416.7 96h0M404 105.2h0M416.1 96.8h0M421.3 107.4h0M406.5 110.6h0M420.1 104.5h0M413.7 105.5h0M420.7 97.2h0M426.4 97.9h0M407.7 100.3h0M427.9 100.4h0M412 94.5h0M417.2 102.1h0M427.4 95h0M426.7 102.2h0M422.2 96.6h0M416.7 99.4h0"/><path stroke-opacity="0.9" d="M418.6 98.5h0M420.6 109.4h0M432.4 99.4h0M417.5 104.8h0M427.9 104.4h0M415 92h0M432.5 98.3h0M425 97.3h0M416.7 93.1h0M431.1 96.5h0M421.4 97.7h0M423.1 97.2h0M414.3 93.3h0M430.1 97.3h0M415.9 107.2h0M410.2 108.4h0M432.5 94.2h0M415.9 94.8h0M406.9 105.5h0M408.1 94.9h0M421.6 99.5h0M418.2 98.2h0M414.4 109.1h0M410.6 105.2h0M405.8 96.6h0M416.8 107.3h0M415.7 104.9h0M413.6 96.8h0M417.9 97.4h0M414.1 106.1h0M428.3 100.7h0M420.1 96.9h0M425.3 97.1h0M418.7 101.6h0M423.8 97.3h0M431.2 97.6h0M429.6 98.5h0M422.4 101h0M416.2 103h0M415.2 104.2h0M426.6 99.8h0M421 99.2h0M419.3 98.7h0M425.4 101.7h0M417.9 99.5h0M414.2 103.1h0M418.3 97.7h0M427.7 97.2h0M425.3 101.7h0M429 101.3h0M429.4 98.9h0M423.9 94.4h0M420.3 103.8h0M423.8 96.1h0M458.3 111.3h0M447.8 64.5h0M430.5 66.5h0M427 66h0"/><path stroke-opacity="0.95" d="M406.2 96.8h0M418.5 107.2h0M424 90h0M422.1 109.7h0M421.5 97.6h0M428.4 98.5h0M412.4 94.7h0M418.8 106.9h0M411.9 110.3h0M428.4 94.4h0M403.4 102.2h0M412.1 107.1h0M403.9 103.7h0M424.3 107.7h0M418.2 93.7h0M402.5 102.7h0M420.4 92h0M408.1 95.1h0M409.7 104.1h0M432.1 96.4h0M427.1 98.3h0M430.6 96.5h0M419.1 100.4h0M424.3 98.7h0M415.7 98.8h0M432.6 95.1h0M421 98.2h0M432.5 97.8h0M419.2 96.1h0M425.5 98.9h0M421.3 103.3h0M420.4 102.4h0M418.9 101.1h0M420.8 97.2h0M425.7 101.9h0M421.9 101.8h0M431.8 94.9h0"/><path d="M413.8 92.9h0M426.9 92.1h0M405.1 105.8h0M425 99.7h0M426.5 102.3h0M401.6 104.7h0M423.2 98.4h0M420.2 109h0M408.1 101.1h0M426.2 101.3h0M407.7 96.9h0M403 104.9h0M429.8 94.7h0M429.2 95.2h0M424.3 101.5h0M420 101.6h0M415.5 102.5h0M430.3 96.5h0M422.4 98.5h0M424.3 99.3h0M426.6 94.5h0M418.4 101.7h0M430 100.4h0M422.7 100.7h0M426.4 101.6h0"/></g><g stroke="#ff8c00" stroke-width="3.3" stroke-linecap="round" fill="none"><path stroke-opacity="0.6" d="M416.6 78.7h0M426.2 80.3h0M421 61.2h0M412.7 75.9h0M426.1 68.4h0M421.7 67.5h0M422.8 62.8h0"/><path stroke-opacity="0.65" d="M419.4 68.2h0M415 63h0M428.5 78.9h0M415.6 78.3h0M421.4 68.1h0M429.2 69.4h0M413.3 69.7h0M427.4 69.2h0M429.3 67.7h0M417.4 64.9h0M419.1 68.1h0M429.5 75.1h0M424.8 68.9h0"/><path stroke-opacity="0.7" d="M427.1 73h0M419.9 72h0M413.4 65.5h0M420.3 78.3h0M421.2 68h0M421.3 68.7h0"/><path stroke-opacity="0.75" d="M416.8 73.8h0M414.5 69.2h0M416.2 75.6h0M427.1 70.7h0M426.1 71.5h0M422.2 69.4h0M431.2 73.4h0M431.2 75.8h0M423.3 66.6h0M419.2 63.4h0"/><path stroke-opacity="0.8" d="M422.3 66.9h0M413.8 65.7h0M412.9 72.5h0M425.4 68.7h0M419.3 73.3h0M430.2 76.1h0M417.4 60.6h0M392.4 93.1h0M396.4 84.9h0M397.3 84.4h0M390.5 77.9h0M396.5 81.9h0M390.6 95.2h0M396.3 84.5h0M389.1 91.7h0M397.7 86.4h0M389.9 88.2h0M393.5 94.2h0M392.6 81.8h0"/><path stroke-opacity="0.85" d="M425.6 77h0M416.2 69.5h0M413.6 72.6h0M430.4 68.3h0M387.3 86.2h0M393.2 93.5h0M381.7 92.3h0M394.5 84.2h0M393.7 83.3h0M389 98.1h0M386 90.8h0M386.8 87h0M379.1 95.1h0M390.6 85.8h0M389.5 89.7h0M387.9 99.6h0M396.2 92.7h0M399 88.3h0M392 92h0M392.4 81.6h0M385.7 95.1h0M386.7 90h0M392.3 76.1h0"/><path stroke-opacity="0.9" d="M416.8 68.4h0M427.4 71.5h0M429.6 70.5h0M414.9 66.2h0M419.1 69.2h0M431.9 69.7h0M415.4 71.2h0M415.2 64.5h0M425.4 70.3h0M424.9 64h0M417.6 80h0M380 91.6h0M388.7 78.1h0M385.4 92.9h0M387.8 99.9h0M392.6 86.7h0M384 92.3h0M381.8 89.1h0M387.2 83.7h0M391.7 88h0M399.6 82.9h0M387.6 92.1h0M387.5 81h0M394.7 78.7h0M395.5 79.7h0M389.2 97.1h0M384.2 84.8h0M389.6 93.3h0M384.3 84.3h0M394.6 83.9h0M381.4 94.6h0M397.8 83.9h0M398.8 83.5h0M385.2 96.9h0M394.8 82.5h0"/><path stroke-opacity="0.95" d="M421.7 78h0M418.9 73.7h0M426.6 69.5h0M417.2 75.9h0M418.1 66h0M425.9 77.6h0M415.6 76.4h0M423 76.1h0M416.7 64.8h0M421.1 78.2h0M418.4 66.5h0M387.9 81.8h0M398.8 85.6h0M391.5 82.2h0M385.6 91h0M386.9 80h0M385.4 92.9h0M379.6 95.3h0M387.4 100.8h0M395.6 84.1h0M383.6 92h0M394.3 94.5h0M385.4 85.5h0M386.5 96.1h0M387.7 99.4h0M382.4 95.6h0M394.4 84.7h0M382.7 88.4h0M385.6 89.2h0M389.5 91.4h0M384.9 92.2h0M388.4 87.2h0M386.2 96.3h0M380.4 97h0M382.6 90.2h0M389.8 93.6h0M390.8 85.2h0M388 79.8h0M395 94h0M381 92.5h0M385.4 94.5h0M397.2 80.4h0M451 112.5h0M453.5 113.5h0M455 112.2h0M452.5 114.5h0M438.6 73h0"/><path d="M417.3 77.6h0M424.6 75.7h0M420.9 66.1h0M429.4 82.4h0M427.5 73.9h0M422.7 63.2h0M421.6 66.7h0M419.4 63h0M388 79.4h0M383.7 92.7h0M384.5 84h0M391 87h0M388.7 93.4h0M389 83.1h0M379.2 96.1h0M383.6 90h0M383.8 98.2h0M395.1 81h0M390.9 80.8h0M400.3 86h0M398.8 86.5h0"/></g><g stroke="#9a0505" stroke-width="3.3" stroke-linecap="round" fill="none"><path stroke-opacity="0.75" d="M441.7 110.7h0M428.6 81.9h0M433.8 106.1h0M433.4 92.5h0M445.2 86.6h0M418.4 109.9h0M437.9 83.9h0M427.7 91.5h0M443.6 108.7h0M442.6 114.8h0M414 103.6h0M411.4 115.5h0M414.9 109.6h0M424.4 110.9h0M421.7 93.9h0M440.7 85.5h0M435.7 116.3h0M414.8 118.8h0M446 89.7h0M414.7 110.1h0M442 97.4h0M409.3 117.7h0M411.1 90.1h0M413.7 116.1h0M425.1 110.9h0M414.9 110.1h0M437.7 116.9h0M442.2 102.4h0M442.6 96.2h0M420.2 110.6h0M415.6 110.4h0M413.3 107.5h0M413.6 98.8h0M423.2 94.4h0M447.4 109.8h0M419.1 91h0M409.4 106.6h0M405.5 113.3h0M417 119.1h0M420 121h0M413.6 99.8h0M450.2 99.6h0M426.2 110.7h0M447.4 101.1h0M415.6 100.8h0M408.4 107.2h0M425.5 88.8h0M419.9 113.7h0M404.6 113.7h0M409.1 106.6h0M432.3 113.6h0M428.6 82.8h0M421.6 120.3h0M442.7 92.8h0M441.8 104.8h0M438.8 107h0M413.6 106.1h0M417.9 114.9h0M415.3 95.1h0"/><path stroke-opacity="0.8" d="M428.6 95.4h0M415.2 90.3h0M441.6 98.8h0M420.6 112.6h0M412.9 104.7h0M432 85.4h0M434.6 81.7h0M443.1 96h0M436.8 113.2h0M439.1 89.8h0M415.5 112.4h0M418.4 109.8h0M411.7 113.7h0M418.6 110.2h0M412.7 92.7h0M420.3 94.8h0M406.5 116h0M414.2 108.4h0M448.3 109.1h0M424.3 116.2h0M436.8 113.3h0M445.5 112.7h0M438.8 101.3h0M423.8 97.2h0M443.7 102.2h0M414.2 94.3h0M441.7 100.1h0M433.5 114.4h0M419.4 89.7h0M413.5 90.7h0M418.5 93h0M407.7 101.8h0M425.3 94.9h0M409.1 101.7h0M415.6 109h0M431.7 106.1h0M423 97.8h0M403.4 104.2h0M422.1 115.7h0M430 90.9h0M426.4 94.4h0M438.7 114.4h0M444.2 88.5h0M445.1 93.7h0M408.3 95.9h0M433.1 109.6h0M409.5 96.6h0M449.1 103.8h0M439.5 111.8h0M439.6 88.2h0M417.6 95.3h0M422.9 89.7h0M433.2 85.9h0M421.5 119.4h0M417.1 96.5h0M433 84h0M439.4 102.1h0M412.5 110.8h0M445.1 103.3h0M416 113.2h0M404.4 101.9h0M433.5 112.9h0M421.5 97.9h0M436.8 116.7h0M408.7 96.1h0M410.7 93h0M418.3 92.7h0M437.5 88.5h0M428.8 118h0M423.6 85.9h0M442.5 100.4h0M414.5 107h0M427.6 109.1h0M424.6 117.4h0M433.1 115h0M440.8 91.1h0M449 97.4h0M415.7 120.8h0M434.5 111.4h0M445.5 88.6h0M453.4 93.5h0M411.2 116h0M441.3 97.1h0M453.8 93.7h0M409.7 92.6h0M447.5 99.2h0M430.4 91.9h0M442.7 96.9h0M414.1 93h0M445.2 106.7h0M443.6 106.2h0M409.8 112.8h0M439.3 105.7h0M420.3 98.9h0M452.4 102.2h0M432 89.8h0"/><path stroke-opacity="0.85" d="M421.6 94.5h0M427.3 85.4h0M410.1 102.9h0M436.5 105.9h0M445 93.2h0M443.5 95.8h0M425.6 111h0M437.5 103.8h0M447.8 110.5h0M413.8 97.8h0M442.1 90.7h0M410.8 93.6h0M441.9 87.8h0M427.3 93.2h0M420.5 91h0M433.9 91.4h0M444 99.7h0M434.1 110.7h0M441 108.7h0M411.4 110.7h0M415.1 89.6h0M427.4 115.4h0M418.1 96.3h0M416.8 113.1h0M406.3 111.4h0M418.6 120.7h0M407.1 94.6h0M438.1 91.5h0M427.7 118.6h0M406.7 100.6h0M414.8 106.8h0M436.8 110.4h0M400.9 108.8h0M423.2 92.4h0M440.3 108.1h0M412.7 102.1h0M408 96.9h0M445.7 98.4h0M403.7 101.9h0M411.1 100h0M409.9 101h0M412.1 95.6h0M431.6 94.3h0M414.6 101h0M409.2 91.7h0M413.6 108.3h0M426.7 93.9h0M417.8 92.5h0M405.1 95.9h0M418.4 115.4h0M444.5 109.1h0M408.9 91.5h0M406.7 112.7h0M415.6 107.8h0M408.6 114h0M420.7 116.8h0M447.4 88.6h0M441.5 104.6h0M424.5 111.1h0M415.4 95.7h0M441.3 93.9h0M443.6 84.2h0M434.7 93h0M437.2 106.7h0M431.4 90.2h0M448.5 105.1h0M443.5 97.8h0M453.5 102.5h0M452.3 99.3h0M413.7 100h0M411.4 103.5h0M417.5 91.2h0M446.6 92h0M427.7 109.3h0M428 93.3h0M436.7 94h0M432.6 105.2h0M445.3 101.3h0M413.9 102.5h0M419.6 94.1h0M416.8 108.2h0M423.9 116.8h0M419.9 97.7h0M451.7 91.8h0M441.7 97.8h0M407.4 94h0M441.4 86.4h0M421.1 95.8h0M444.5 108.4h0M410.1 93.4h0M410.5 115.4h0M431.3 120.2h0M413.4 107.9h0M411.7 101.9h0M409.9 92h0M433.8 109.1h0M412.7 92.2h0M445.8 91.6h0M441.2 83.1h0M422 90.1h0M424.5 94.8h0M427.7 115.7h0M422.5 113.3h0M431.4 118.4h0M447.6 106.8h0M439.8 106.3h0"/><path stroke-opacity="0.9" d="M418.2 93.5h0M440.9 103.2h0M421.5 116.5h0M440.4 100.9h0M449.1 90h0M446.1 110.5h0M443.7 103.4h0M436.3 107.7h0M440.4 97.4h0M420.8 91.7h0M414.5 107.9h0M413.4 104.3h0M437.2 84.7h0M417.1 108.9h0M407.5 109.8h0M415 88.8h0M426.4 92.5h0M445.2 90.6h0M449.8 93.3h0M415.7 90.7h0M436.8 104.6h0M432.9 82.6h0M427 88.9h0M410.4 95.7h0M421.3 85h0M427 94.2h0M409.3 116.3h0M429.1 95.5h0M416.8 94.8h0M442.4 91.1h0M418.2 89.8h0M433.1 111.2h0M423.1 92.1h0M453.2 97.1h0M421 96.6h0M436.3 83.9h0M418.4 111.7h0M436.5 115h0M417 96.9h0M427 107.7h0M438.4 112.3h0M439.8 89.8h0M445.5 95.4h0M449.4 92h0M416.9 115.8h0M441.7 97.3h0M444.1 98.5h0M407.2 93.6h0M439.4 115.7h0M435.8 90.4h0M427.7 88.1h0M448.3 106h0M426.4 110.2h0M413.3 108.3h0M440.1 84.4h0M443.5 97.8h0M407.5 93.5h0M440.6 90.7h0M420.2 94.3h0M428.8 94.6h0M410.5 94.6h0M412.2 103.4h0M441.1 97.6h0M407.5 96.8h0M425.2 115h0M447.5 94.7h0M423.4 97.4h0M437.3 102.5h0M448.6 93.6h0M431.6 112.6h0M417.9 116.6h0M418.5 88.6h0M411.1 90.7h0M432.5 110.3h0M434.8 87.1h0M427 106.7h0M436.9 114.1h0M443.3 108.7h0M416.8 112.2h0M414.6 105.9h0M429.2 107.2h0M441.2 89.5h0M414.3 119.5h0M408.2 98.4h0M417.3 87.6h0M416 115.1h0M420.2 95.6h0M404.1 103h0M436.4 85.6h0M428.3 83.3h0M439.2 108.8h0M431 111h0M431.9 92.3h0M430.9 89.5h0M420.5 117.7h0M410.6 93h0M415.5 98.1h0M430.4 82.6h0M419.8 116.6h0M414.3 97.6h0M429.2 107.7h0M444.6 93h0M442.7 113.5h0M441.2 109.1h0M379.5 80.5h0M383 81.5h0M386 82h0M388 86.5h0M392 87.5h0M378.5 90.5h0M382 92h0M410.5 69h0M414 74h0M424 66.5h0M447.3 63.5h0"/><path stroke-opacity="0.95" d="M424 89.7h0M409.2 92.4h0M442.9 109.9h0M407.2 111.3h0M441.2 97.7h0M417.3 88.6h0M449.3 87.4h0M402.7 112.3h0M412.7 106.4h0M443.7 84.5h0M405.9 94.7h0M423.3 97.5h0M448.7 100.8h0M417.6 88.2h0M416.7 117.8h0M434 109.4h0M438.9 101.5h0M440.7 91.1h0M445.8 101.5h0M445.6 98.9h0M434.7 87.3h0M437.4 94h0M440.5 103.6h0M410.5 101.6h0M439 82.6h0M435.7 111.9h0M421.8 88.7h0M430.4 107.5h0M417.7 96.4h0M438.9 110.5h0M410.1 107.2h0M434 91.7h0M441.1 91.6h0M420.2 94.3h0M448.6 97.4h0M409.4 106.9h0M432.3 110.4h0M424.8 109.4h0M422.1 114.7h0M416.5 92.2h0M441.4 107.3h0M432.8 84.1h0M438.9 89.2h0M413.5 98.8h0M414.7 108.2h0M425.8 112.5h0M439.1 102.1h0M420.7 110h0M444.9 97.6h0M444.5 108.5h0M411.3 104.8h0M424.2 93.5h0M438.6 109.7h0M401.5 112.3h0M411.3 90.6h0M412 105.4h0M446.9 106h0M414.1 106.3h0M414 101.3h0M432.6 82.2h0M406.1 112.7h0M414.5 98.3h0M436.7 95.2h0M448.4 86.1h0M409.8 102.8h0M436.8 94.4h0M430.8 117.5h0M417.3 96.6h0M435.6 114.1h0M446.8 99.5h0M423.7 89h0M441.7 113.3h0M423.6 90.3h0M422.7 118.1h0M408.6 114.1h0M448.5 104.4h0M440.2 108.7h0M405.4 112.6h0M403.6 98.4h0M437.4 114.2h0M436.2 108.1h0M405.5 106.7h0M408 113.8h0"/><path d="M443.5 106.7h0M420.8 108.6h0M437 87.2h0M420.2 115.7h0M414.5 112.6h0M430 115.3h0M415 118.7h0M427.2 95.5h0M425.8 112h0M438.5 108.5h0M436.1 110.7h0M439.1 108.2h0M413.9 112.7h0M410 106.6h0M422.7 108.7h0M433.9 91.5h0M439.6 95.2h0M422 98.9h0M422.7 110.8h0M406.4 95.9h0M432.5 93h0M435.2 88h0M451.3 105.2h0M426.3 107.2h0M440.9 107.5h0M444 92.3h0M444.6 88.5h0M425.3 109.8h0M425.6 110.8h0M430.2 83.8h0M423.5 96.6h0M426.2 90.9h0M412.7 110.9h0M423 84.8h0M417.3 121h0M404.8 96.5h0M429.8 114.6h0M414.5 92.1h0M422.5 113.2h0M413.3 103h0M404.9 103.3h0"/></g><g stroke="#0cfa72" stroke-width="3.3" stroke-linecap="round" fill="none"><path stroke-opacity="0.85" d="M399.6 99.3h0"/><path stroke-opacity="0.9" d="M402.4 103.3h0M402.2 107.4h0M399.5 101.2h0M401.2 108.8h0"/><path stroke-opacity="0.95" d="M400 100.6h0M402.4 101h0M401.6 95.6h0"/><path d="M402.1 100.7h0M403.8 93.8h0"/></g><g stroke="#ff8c00" stroke-width="3.3" stroke-linecap="round" fill="none"><path stroke-opacity="0.75" d="M419.9 121.2h0M420.4 122.1h0M419.5 118.9h0"/><path stroke-opacity="0.8" d="M422.6 122.2h0"/><path stroke-opacity="0.85" d="M421.2 118.8h0M420.8 126.7h0"/><path stroke-opacity="0.9" d="M420.3 124.8h0M420.8 125h0"/><path stroke-opacity="0.95" d="M422.2 124.3h0M420.1 125.2h0"/><path d="M419.5 124.7h0"/></g><g stroke="#0a84ff" stroke-width="3.3" stroke-linecap="round" fill="none"><path stroke-opacity="0.85" d="M446.1 74.1h0M457.6 64.3h0M455.4 62.8h0M444.9 66.7h0M461.3 65.8h0M445.5 65.6h0M448.7 65.1h0M461.2 58.2h0M452.3 66h0M452.3 72.5h0M462.6 61.1h0M457 61.8h0M454.5 60.3h0M454.3 68.3h0M448.7 69.5h0"/><path stroke-opacity="0.9" d="M445.5 69.1h0M450 71.9h0M456.2 60.9h0M449.4 64.5h0M449.7 60h0M450.6 68.2h0M448.7 72.6h0M454.8 57.4h0M443.4 71.3h0M449.2 65.2h0M448.6 72.3h0M458.1 64.1h0M456.3 58.7h0M461.6 62.6h0M459.6 60.8h0M446.9 70.5h0M456.2 70.1h0M445.9 73.2h0M461.6 59.6h0M456.2 63.8h0M449.9 64.9h0M457.8 56.9h0M455.8 60.3h0M451.4 67h0M455.9 57.3h0M461.7 61.8h0M440.7 70.4h0"/><path stroke-opacity="0.95" d="M449.3 70.1h0M459.2 62.2h0M446.8 65h0M452.7 59.1h0M449.8 60h0M445 64.5h0M453.8 61.4h0M454.1 63.6h0M448.7 63.1h0M443.7 75.2h0M452.1 72.6h0M445.4 66.1h0M458.9 59.2h0M450.7 65.5h0M456.4 64.8h0M441.7 66.5h0M445.8 70.8h0M444.6 71.8h0M446.8 73.4h0M451 65.9h0M453.1 65.8h0M457.5 60.5h0M443.7 68.6h0M447.1 73.5h0M459.8 65.7h0M448.1 69.6h0M455.2 59.9h0M446.4 73.1h0M453.1 63.3h0M460.1 64.3h0M446.4 69.2h0M449.1 61.6h0M447.7 67.6h0M451 69.7h0M462.3 59.1h0M455.9 61.6h0M458.8 65.3h0M442 72.6h0M458 63.8h0M442.6 66.4h0M461.5 63.7h0"/><path d="M459.7 64.3h0M461.4 62.1h0M459.6 66.5h0M455.8 61.6h0M451.7 69.2h0M456.4 58.9h0M459.2 56.7h0M444.2 65.1h0M457.9 64.3h0M456.5 64.1h0M456 70h0M447.7 67.3h0M460.8 61.4h0M455.9 59.3h0M453.7 61.3h0M459.1 60.6h0M456.9 62.9h0M449.7 68.5h0M457.2 62.5h0M450 61.4h0M457.8 65.5h0M451 66h0M457.9 69.6h0"/></g>
<rect x="281.1" y="8.4" width="113.7" height="45" fill="#fff" stroke="#808080" stroke-width="0.8"/>
<circle cx="286.6" cy="15.8" r="1.5" fill="#9a0505"/>
<circle cx="292.1" cy="15" r="1.5" fill="#9a0505"/>
<circle cx="297.9" cy="16" r="1.5" fill="#9a0505"/>
<text class="lg" x="306.7" y="18.3">Contamination</text>
<circle cx="286.6" cy="23.5" r="1.5" fill="#00008b"/>
<circle cx="292.1" cy="22.7" r="1.5" fill="#00008b"/>
<circle cx="297.9" cy="23.7" r="1.5" fill="#00008b"/>
<text class="lg" x="306.7" y="26">Floating</text>
<circle cx="286.6" cy="31.2" r="1.5" fill="#0a84ff"/>
<circle cx="292.1" cy="30.4" r="1.5" fill="#0a84ff"/>
<circle cx="297.9" cy="31.4" r="1.5" fill="#0a84ff"/>
<text class="lg" x="306.7" y="33.7">Free metal</text>
<circle cx="286.6" cy="38.8" r="1.5" fill="#0cfa72"/>
<circle cx="292.1" cy="38" r="1.5" fill="#0cfa72"/>
<circle cx="297.9" cy="39" r="1.5" fill="#0cfa72"/>
<text class="lg" x="306.7" y="41.3">Protrusion_conductor</text>
<circle cx="286.6" cy="46.5" r="1.5" fill="#ff8c00"/>
<circle cx="292.1" cy="45.7" r="1.5" fill="#ff8c00"/>
<circle cx="297.9" cy="46.7" r="1.5" fill="#ff8c00"/>
<text class="lg" x="306.7" y="49">Protrusion_tank</text>
<text class="cap" x="398" y="211.8">(b)</text>
<polygon points="216,370.5 244.5,306 241.5,228 210.8,290.6" fill="#f8f8f8"/>
<polygon points="244.5,306 366,317.7 370.7,239.3 241.5,228" fill="#f2f2f2"/>
<polygon points="216,370.5 346.4,384 366,317.7 244.5,306" fill="#f5f5f5"/>
<line x1="216" y1="370.5" x2="244.5" y2="306" stroke="#e6e6e6" stroke-width="0.6"/>
<line x1="244.5" y1="306" x2="241.5" y2="228" stroke="#e6e6e6" stroke-width="0.6"/>
<line x1="237.1" y1="372.7" x2="264.2" y2="307.9" stroke="#e6e6e6" stroke-width="0.6"/>
<line x1="264.2" y1="307.9" x2="262.3" y2="229.8" stroke="#e6e6e6" stroke-width="0.6"/>
<line x1="258.2" y1="374.9" x2="283.9" y2="309.8" stroke="#e6e6e6" stroke-width="0.6"/>
<line x1="283.9" y1="309.8" x2="283.3" y2="231.6" stroke="#e6e6e6" stroke-width="0.6"/>
<line x1="279.5" y1="377.1" x2="303.7" y2="311.7" stroke="#e6e6e6" stroke-width="0.6"/>
<line x1="303.7" y1="311.7" x2="304.4" y2="233.5" stroke="#e6e6e6" stroke-width="0.6"/>
<line x1="300.8" y1="379.3" x2="323.6" y2="313.6" stroke="#e6e6e6" stroke-width="0.6"/>
<line x1="323.6" y1="313.6" x2="325.5" y2="235.3" stroke="#e6e6e6" stroke-width="0.6"/>
<line x1="322.3" y1="381.5" x2="343.6" y2="315.5" stroke="#e6e6e6" stroke-width="0.6"/>
<line x1="343.6" y1="315.5" x2="346.8" y2="237.2" stroke="#e6e6e6" stroke-width="0.6"/>
<line x1="343.8" y1="383.8" x2="363.6" y2="317.4" stroke="#e6e6e6" stroke-width="0.6"/>
<line x1="363.6" y1="317.4" x2="368.2" y2="239.1" stroke="#e6e6e6" stroke-width="0.6"/>
<line x1="216.1" y1="370.5" x2="346.4" y2="383.9" stroke="#e6e6e6" stroke-width="0.6"/>
<line x1="216.1" y1="370.5" x2="210.8" y2="290.6" stroke="#e6e6e6" stroke-width="0.6"/>
<line x1="219.8" y1="362" x2="349" y2="375.3" stroke="#e6e6e6" stroke-width="0.6"/>
<line x1="219.8" y1="362" x2="214.8" y2="282.3" stroke="#e6e6e6" stroke-width="0.6"/>
<line x1="223.5" y1="353.8" x2="351.5" y2="366.8" stroke="#e6e6e6" stroke-width="0.6"/>
<line x1="223.5" y1="353.8" x2="218.8" y2="274.3" stroke="#e6e6e6" stroke-width="0.6"/>
<line x1="227" y1="345.6" x2="354" y2="358.4" stroke="#e6e6e6" stroke-width="0.6"/>
<line x1="227" y1="345.6" x2="222.7" y2="266.4" stroke="#e6e6e6" stroke-width="0.6"/>
<line x1="230.6" y1="337.6" x2="356.4" y2="350.2" stroke="#e6e6e6" stroke-width="0.6"/>
<line x1="230.6" y1="337.6" x2="226.5" y2="258.6" stroke="#e6e6e6" stroke-width="0.6"/>
<line x1="234" y1="329.8" x2="358.8" y2="342.1" stroke="#e6e6e6" stroke-width="0.6"/>
<line x1="234" y1="329.8" x2="230.2" y2="251" stroke="#e6e6e6" stroke-width="0.6"/>
<line x1="237.4" y1="322.1" x2="361.1" y2="334.2" stroke="#e6e6e6" stroke-width="0.6"/>
<line x1="237.4" y1="322.1" x2="233.8" y2="243.6" stroke="#e6e6e6" stroke-width="0.6"/>
<line x1="240.8" y1="314.5" x2="363.4" y2="326.4" stroke="#e6e6e6" stroke-width="0.6"/>
<line x1="240.8" y1="314.5" x2="237.4" y2="236.2" stroke="#e6e6e6" stroke-width="0.6"/>
<line x1="244.1" y1="307.1" x2="365.7" y2="318.8" stroke="#e6e6e6" stroke-width="0.6"/>
<line x1="244.1" y1="307.1" x2="241" y2="229.1" stroke="#e6e6e6" stroke-width="0.6"/>
<line x1="216" y1="370.5" x2="244.5" y2="306" stroke="#e6e6e6" stroke-width="0.6"/>
<line x1="244.5" y1="306" x2="366" y2="317.7" stroke="#e6e6e6" stroke-width="0.6"/>
<line x1="215.3" y1="359.7" x2="244.1" y2="295.4" stroke="#e6e6e6" stroke-width="0.6"/>
<line x1="244.1" y1="295.4" x2="366.6" y2="307" stroke="#e6e6e6" stroke-width="0.6"/>
<line x1="214.6" y1="348.8" x2="243.7" y2="284.7" stroke="#e6e6e6" stroke-width="0.6"/>
<line x1="243.7" y1="284.7" x2="367.3" y2="296.2" stroke="#e6e6e6" stroke-width="0.6"/>
<line x1="213.9" y1="337.6" x2="243.3" y2="273.7" stroke="#e6e6e6" stroke-width="0.6"/>
<line x1="243.3" y1="273.7" x2="367.9" y2="285.2" stroke="#e6e6e6" stroke-width="0.6"/>
<line x1="213.1" y1="326.2" x2="242.8" y2="262.6" stroke="#e6e6e6" stroke-width="0.6"/>
<line x1="242.8" y1="262.6" x2="368.6" y2="274.1" stroke="#e6e6e6" stroke-width="0.6"/>
<line x1="212.4" y1="314.5" x2="242.4" y2="251.3" stroke="#e6e6e6" stroke-width="0.6"/>
<line x1="242.4" y1="251.3" x2="369.3" y2="262.7" stroke="#e6e6e6" stroke-width="0.6"/>
<line x1="211.6" y1="302.7" x2="241.9" y2="239.7" stroke="#e6e6e6" stroke-width="0.6"/>
<line x1="241.9" y1="239.7" x2="370" y2="251.1" stroke="#e6e6e6" stroke-width="0.6"/>
<line x1="210.8" y1="290.6" x2="241.5" y2="228" stroke="#e6e6e6" stroke-width="0.6"/>
<line x1="241.5" y1="228" x2="370.7" y2="239.3" stroke="#e6e6e6" stroke-width="0.6"/>
<line x1="216" y1="370.5" x2="346.4" y2="384" stroke="#333" stroke-width="0.8"/>
<line x1="346.4" y1="384" x2="366" y2="317.7" stroke="#333" stroke-width="0.8"/>
<line x1="366" y1="317.7" x2="370.7" y2="239.3" stroke="#333" stroke-width="0.8"/>
<line x1="216.4" y1="369.4" x2="215.5" y2="372.2" stroke="#333" stroke-width="0.8"/>
<text class="tk" x="215.7" y="385.4">−30</text>
<line x1="237.4" y1="371.6" x2="236.6" y2="374.4" stroke="#333" stroke-width="0.8"/>
<text class="tk" x="236.4" y="387.5">−20</text>
<line x1="258.6" y1="373.7" x2="257.7" y2="376.6" stroke="#333" stroke-width="0.8"/>
<text class="tk" x="257.2" y="389.7">−10</text>
<line x1="279.8" y1="375.9" x2="279" y2="378.8" stroke="#333" stroke-width="0.8"/>
<text class="tk" x="278.1" y="391.8">0</text>
<line x1="301.2" y1="378.2" x2="300.3" y2="381" stroke="#333" stroke-width="0.8"/>
<text class="tk" x="299.1" y="393.9">10</text>
<line x1="322.6" y1="380.4" x2="321.8" y2="383.2" stroke="#333" stroke-width="0.8"/>
<text class="tk" x="320.2" y="396.1">20</text>
<line x1="344.2" y1="382.6" x2="343.3" y2="385.5" stroke="#333" stroke-width="0.8"/>
<text class="tk" x="341.4" y="398.3">30</text>
<line x1="345.2" y1="383.8" x2="348.2" y2="384.1" stroke="#333" stroke-width="0.8"/>
<text class="tk" x="355.7" y="393.1">−20</text>
<line x1="347.8" y1="375.1" x2="350.8" y2="375.5" stroke="#333" stroke-width="0.8"/>
<text class="tk" x="357.9" y="384.7">−15</text>
<line x1="350.3" y1="366.6" x2="353.3" y2="366.9" stroke="#333" stroke-width="0.8"/>
<text class="tk" x="360.2" y="376.5">−10</text>
<line x1="352.8" y1="358.3" x2="355.7" y2="358.6" stroke="#333" stroke-width="0.8"/>
<text class="tk" x="362.3" y="368.4">−5</text>
<line x1="355.2" y1="350.1" x2="358.2" y2="350.4" stroke="#333" stroke-width="0.8"/>
<text class="tk" x="364.4" y="360.5">0</text>
<line x1="357.6" y1="342" x2="360.6" y2="342.3" stroke="#333" stroke-width="0.8"/>
<text class="tk" x="366.5" y="352.7">5</text>
<line x1="359.9" y1="334.1" x2="362.9" y2="334.4" stroke="#333" stroke-width="0.8"/>
<text class="tk" x="368.5" y="345.1">10</text>
<line x1="362.2" y1="326.3" x2="365.2" y2="326.6" stroke="#333" stroke-width="0.8"/>
<text class="tk" x="370.5" y="337.5">15</text>
<line x1="364.5" y1="318.7" x2="367.5" y2="319" stroke="#333" stroke-width="0.8"/>
<text class="tk" x="372.5" y="330.2">20</text>
<line x1="364.8" y1="317.5" x2="367.8" y2="317.8" stroke="#333" stroke-width="0.8"/>
<text class="tk" x="374.3" y="321">−40</text>
<line x1="365.4" y1="306.9" x2="368.4" y2="307.2" stroke="#333" stroke-width="0.8"/>
<text class="tk" x="374.9" y="310.3">−30</text>
<line x1="366.1" y1="296.1" x2="369.1" y2="296.4" stroke="#333" stroke-width="0.8"/>
<text class="tk" x="375.6" y="299.5">−20</text>
<line x1="366.7" y1="285.1" x2="369.7" y2="285.4" stroke="#333" stroke-width="0.8"/>
<text class="tk" x="376.2" y="288.5">−10</text>
<line x1="367.4" y1="273.9" x2="370.4" y2="274.2" stroke="#333" stroke-width="0.8"/>
<text class="tk" x="376.9" y="277.4">0</text>
<line x1="368.1" y1="262.6" x2="371.1" y2="262.8" stroke="#333" stroke-width="0.8"/>
<text class="tk" x="377.6" y="266">10</text>
<line x1="368.8" y1="251" x2="371.7" y2="251.2" stroke="#333" stroke-width="0.8"/>
<text class="tk" x="378.3" y="254.4">20</text>
<line x1="369.5" y1="239.2" x2="372.5" y2="239.4" stroke="#333" stroke-width="0.8"/>
<text class="tk" x="379" y="242.6">30</text>
<text class="al" transform="translate(276.5,400.2) rotate(5)" y="3.45" textLength="52.5" lengthAdjust="spacingAndGlyphs">Dimension 1</text>
<text class="al" transform="translate(380,357.4) rotate(-73)" y="3.45" textLength="52.5" lengthAdjust="spacingAndGlyphs">Dimension 2</text>
<text class="al" transform="translate(393.8,281.5) rotate(-87)" y="3.45" textLength="52.5" lengthAdjust="spacingAndGlyphs">Dimension 3</text>
<g stroke="#00008b" stroke-width="3.3" stroke-linecap="round" fill="none"><path stroke-opacity="0.75" d="M264.6 281.2h0M266.5 291.7h0M250.8 290.3h0M260.5 293.5h0M263.4 291.5h0M255.4 290.8h0M266.1 277.9h0M255 291.1h0M253.6 279.9h0M258.5 288h0M291.1 284.6h0M281.2 286.3h0M286.6 278.7h0M290.7 279.8h0M288 277.8h0M290 286.3h0M271.9 300.5h0M281.2 296.1h0M274.9 299.2h0M271.7 291.9h0M281.7 299.1h0M277.5 302.2h0M279.8 297.8h0M279.9 296h0M270.8 296.9h0M265.2 283.8h0M274.1 285.8h0M275 277.7h0M276.6 272.8h0M266.1 278.3h0M273.4 284.4h0"/><path stroke-opacity="0.8" d="M257.5 292.5h0M259.1 280.4h0M259.7 282.1h0M257.5 293.2h0M259.2 284.5h0M260.2 280.4h0M255.2 282.3h0M254.2 279.5h0M267.1 281h0M259.2 281.9h0M254.1 286.1h0M265.9 279.8h0M262.7 284.7h0M260.1 276.7h0M250.3 282.7h0M261.4 288.8h0M254 280.6h0M282.6 282.6h0M280.5 279.8h0M284.2 276.9h0M278.5 282.9h0M278.1 286.1h0M282.5 278.8h0M279.4 281.4h0M284.2 289.5h0M282 289.7h0M282.6 282.7h0M287 281.4h0M283.6 288.3h0M289.7 285.4h0M275.3 300.2h0M277.1 296h0M276.1 296.1h0M283.9 294.7h0M282.1 297.1h0M278.2 298.8h0M278.4 299.2h0M264.6 295.7h0M266.4 294h0M272.4 277.1h0M279.3 281.4h0M278.9 280.6h0M278 283.3h0M268.9 279.3h0M267.5 277h0M275.9 278.3h0M271.9 283.5h0M268.8 280.4h0M267.9 279.3h0M267.6 280.2h0M267.6 277.8h0M267.6 283.7h0M266.1 278.4h0"/><path stroke-opacity="0.85" d="M257.2 292.5h0M269 285.7h0M266.6 280.6h0M255.5 280h0M252 288.5h0M263.5 288.9h0M263.1 283.1h0M265.1 289.4h0M255.7 288.4h0M256.1 282.4h0M261.9 286.9h0M260.8 291.1h0M251.8 289.6h0M263.5 293.3h0M264 285.7h0M259.3 290.9h0M262.9 282h0M258.2 278.1h0M264 287.5h0M260.4 277.4h0M255.1 282.5h0M255.9 282.7h0M253.6 290.7h0M280.4 279.3h0M285 284.9h0M281.5 290.3h0M286.1 284.5h0M286.9 284.9h0M280.3 278.7h0M291.6 284.3h0M280 281.4h0M287.6 286.1h0M280.4 280.7h0M288.4 288.9h0M287.5 280.9h0M291.2 285.5h0M289.1 285.3h0M268.2 292.1h0M283.9 293.7h0M279.7 300h0M273.4 298.2h0M270.6 300.4h0M270.1 289.3h0M268.4 295.8h0M279.3 297.9h0M272.6 281.9h0M274.8 280.6h0M264.8 278.1h0M276.9 282.8h0M278.2 280.2h0M266.3 279h0M275.8 279.6h0M277.9 277.9h0M263.1 279.5h0M264.5 285.5h0M266.8 283.8h0"/><path stroke-opacity="0.9" d="M250.9 281.4h0M265.7 280.4h0M255.3 285.4h0M252 279.7h0M255.8 290.7h0M251.9 290.6h0M262.1 278.8h0M255.7 277.8h0M266.2 287.4h0M258.6 282.3h0M261.9 291.6h0M254.6 284.8h0M258.9 286.7h0M252 290.5h0M257.4 291.2h0M265.7 284.4h0M255.1 278.6h0M289.8 279.9h0M291.3 285.7h0M284.5 290.8h0M280.3 288.9h0M283.2 277.3h0M286 281.9h0M283.2 281.9h0M282.7 293.9h0M272.2 297.3h0M274.7 294.2h0M283 292.1h0M274.7 299.7h0M274.9 294.3h0M269.9 293.6h0M276.2 299.7h0M274.1 291.1h0M272.2 296.4h0M271.2 297h0M277.9 277.7h0M271.5 285.2h0M277.9 280.2h0M275.7 276.9h0M268.5 281h0M274.6 275.8h0M269.5 277h0M270.9 276.3h0M277.4 285.5h0M272.6 285.4h0M264.5 279.5h0M275.2 278.1h0M280.2 281h0M276.8 284.5h0M277.3 286.5h0M258 321h0M262 321.5h0"/><path stroke-opacity="0.95" d="M256.5 290.7h0M259 289.1h0M256.8 278.3h0M250 282.2h0M255.8 285.7h0M254.6 286h0M259.2 289.2h0M254.8 285.1h0M258.5 287.6h0M268.1 281.3h0M257.7 286.1h0M256.8 283.5h0M257.7 279h0M266.4 282.3h0M259.7 280.6h0M250.3 280.5h0M252.8 292.8h0M264.3 284.6h0M252 286.4h0M260.4 280.3h0M252.4 289.8h0M257.5 279.1h0M253.2 289.3h0M254.6 287h0M265.6 280.9h0M254.2 284.5h0M251 287.7h0M260.8 290.1h0M261 293.8h0M286.5 291.2h0M279.5 290.1h0M285.4 285.7h0M288.4 285.7h0M278.3 285.1h0M288.4 278.3h0M291.8 284.2h0M281.6 277.7h0M283.8 279.6h0M283.7 281.7h0M279.5 284.4h0M284 275.4h0M283.8 284.5h0M278 282.3h0M271.6 299.3h0M282.2 296.5h0M270.7 293.6h0M269.9 293.1h0M280.8 297.8h0M275.4 289.2h0M280.8 290.8h0M284.3 291.8h0M273.8 298.3h0M272.9 293.9h0M273.2 297.9h0M270.2 279.5h0M273.1 278.1h0M263.4 278.9h0M276.7 274.9h0M272.4 278.3h0M275.5 284.7h0M263.9 280.1h0"/><path d="M266.1 285.6h0M264.2 288.5h0M258.3 280.2h0M261.2 285.3h0M249.9 282.4h0M266.2 280.9h0M263.4 279.2h0M261.6 281.5h0M263.4 289.5h0M258.2 275.1h0M283.5 276.7h0M280.6 280.2h0M281.9 286.8h0M281.2 297.9h0M284.5 293.5h0M270.4 288.9h0M275.5 299.4h0M269.4 291.4h0M284.3 293.4h0M268.9 276.9h0M264.5 280.4h0M276.6 279.8h0M271.8 283.3h0M270.9 285.4h0M277.8 284.1h0M263.8 281.6h0"/></g><g stroke="#ff8c00" stroke-width="3.3" stroke-linecap="round" fill="none"><path stroke-opacity="0.45" d="M278.1 278.8h0M271.7 277.7h0M280.1 272.3h0"/><path stroke-opacity="0.5" d="M277.5 276h0M273.8 277.7h0M271.4 279.6h0M286.2 273.3h0M281.6 272.4h0"/><path stroke-opacity="0.55" d="M286.2 278.1h0M280.5 278.9h0M276.5 274.2h0M275.1 279.2h0M277 279.8h0M274.1 273.3h0"/><path stroke-opacity="0.6" d="M274.7 271.2h0M280.7 272.5h0M280.2 274.9h0M283.1 276.2h0M269 279.6h0M271.9 278.7h0"/><path stroke-opacity="0.65" d="M272.6 271.2h0M281.3 274.3h0M274.2 276.5h0M276.7 275.6h0"/><path stroke-opacity="0.7" d="M268.3 272.7h0M276.1 275.4h0M280.2 271.1h0M282.8 271.5h0M283 277.7h0"/></g><g stroke="#ff8c00" stroke-width="3.3" stroke-linecap="round" fill="none"><path stroke-opacity="0.8" d="M257.5 305.5h0M251.4 305.1h0M253.8 307.7h0M259.5 297.9h0M255.8 313.4h0M249.8 308.8h0M254.2 299.4h0M257.1 318.9h0M260.6 317.5h0M249.7 302.3h0M250.8 303.6h0M253.2 316.4h0M256.5 313.9h0M309.3 336.7h0M304.2 340.1h0M308.9 340.3h0"/><path stroke-opacity="0.85" d="M255.3 319.2h0M258.9 317.7h0M255.4 321.5h0M249.4 305.3h0M252.8 302.5h0M258.9 306.2h0M253.8 303.7h0M258 320.3h0M255.6 316.2h0M250.6 308.6h0M258.4 304.4h0M257.5 319.6h0M250.6 305.3h0M254.6 305.3h0M248.8 312.1h0M253.4 304.7h0M254.7 300.5h0M260 314.9h0M258 300.8h0M257.1 314.9h0M254.9 306.6h0M255.2 301.3h0M254.5 317.3h0M249.5 301.7h0M256.8 297.7h0M254.3 300h0M256.5 311.8h0M254.9 318.1h0M304.1 340.7h0M302.3 338.1h0M305.2 340.2h0M309.4 337.5h0M306.9 336.1h0"/><path stroke-opacity="0.9" d="M257.4 303.5h0M253.9 307.9h0M257.8 311.4h0M254.6 312.7h0M258.8 311.2h0M256.1 296.9h0M258.3 297.3h0M252.6 298.8h0M250.2 298.9h0M258.1 302.4h0M255.8 300.8h0M253.1 298.6h0M251.3 310.8h0M251.8 316.6h0M250.8 312h0M253.9 316.8h0M251.7 308.2h0M247.1 307.6h0M248.8 300.6h0M258.6 314.8h0M250 293.8h0M250.6 301.3h0M249 306.9h0M259.2 317.8h0M307.5 339.6h0"/><path stroke-opacity="0.95" d="M258.1 311.6h0M250.9 295.3h0M257.8 310.6h0M256.6 319.9h0M256.7 304.7h0M254.4 312.5h0M248.3 308.6h0M255.7 297.7h0M250 313.6h0M256.7 310.4h0M250.4 306.7h0M251.9 300.1h0M252.1 296.5h0M248.5 311.8h0M260.6 315.6h0M308 340.1h0M306.1 339.6h0M329.5 322h0M331.5 323.5h0M333.5 321.5h0M331 324.8h0M316.6 294.7h0"/><path d="M258.7 297.7h0M254.1 310.6h0M251.3 317h0M257.4 317.5h0M254.5 318.9h0M248.2 308.9h0M257.8 298.7h0M253.6 298.9h0M250.1 307.1h0M247.1 301.3h0M249.6 317.6h0M251.7 294.9h0M260.1 313.9h0"/></g><g stroke="#0cfa72" stroke-width="3.3" stroke-linecap="round" fill="none"><path stroke-opacity="0.8" d="M285.5 297.6h0M292.5 301h0M268.3 313.3h0M288.9 320.6h0M293.8 309.7h0M288.2 312.1h0M273.2 306.3h0M283.7 290.4h0M290.3 311.3h0M280.8 316.7h0M290 320.9h0M284.6 294h0M296.4 296.9h0M294.7 302.9h0M291.9 314.3h0M275 298.7h0M293.1 299.5h0M295 304.4h0M290.8 302.4h0M287.3 315.7h0M297.5 312.7h0M290 320.3h0M298.5 299.2h0M300.1 306h0M293.1 317.9h0M275.4 312.3h0M276.9 301.1h0M279.2 306h0M293.4 297.4h0M277.5 323.4h0M262 312.3h0M293.6 314.1h0M293.3 295h0M290.8 299.9h0M276.3 315.5h0M297.8 318.6h0M268.1 317.8h0M287 303.9h0M286.5 303h0"/><path stroke-opacity="0.85" d="M273.9 297.7h0M275 301h0M282.9 297.3h0M289.1 303.8h0M285.1 322.9h0M287.6 323h0M272.5 322.5h0M296 312.3h0M287.1 313.2h0M287.1 319.5h0M275.6 292h0M302.8 302.5h0M299.2 308.1h0M279.6 302.5h0M288.5 299.4h0M286.2 295.8h0M293.4 317.2h0M285.3 305.9h0M287.3 321.6h0M294.2 299.2h0M274.5 300.6h0M294.6 297.4h0M285.1 307.7h0M265.2 317h0M288.8 306.8h0M299.2 306.8h0M263.5 317.3h0M272.5 298.6h0M268.7 307.7h0M289.7 303.2h0M284.9 301.6h0M300.7 309.9h0M274.6 320h0M285.3 307h0M271.8 316.3h0M287.6 295.2h0M295.3 317.3h0M294.8 307.8h0M294.6 305.2h0M280.9 315.9h0M289.3 298.5h0M265.3 316.2h0M299.4 305.1h0M298.1 312.1h0M268.6 307.8h0M286.6 305.2h0M268.9 304.2h0M287.1 299.8h0M285.5 316.8h0M290.7 315.2h0M276.6 297.5h0M287 312.1h0M279.7 319.4h0M270 314.1h0M285.4 312.9h0M273.1 307.4h0M292.3 310.3h0M282 316.9h0M282.8 306.8h0M276.3 297.1h0M281.3 299.6h0M292.9 296.3h0M300.7 301.4h0M272.9 318.7h0M278.7 302.7h0M294 303.1h0M269.8 307.2h0M279.9 297.2h0M284.2 299.1h0M289.5 310.3h0M270.4 310.2h0M289.9 307.7h0M287.6 299.9h0M289.5 314.8h0M298.4 306.8h0M268.5 306.2h0M290.3 321.8h0M289.1 324.5h0M284.1 303h0M274.9 321.8h0M270 299.4h0M281.5 313.4h0M269.8 304.3h0M294.8 315.6h0M296.1 298h0M288.3 313.4h0M299.3 301.7h0M282.7 302.8h0"/><path stroke-opacity="0.9" d="M296.7 313.4h0M298.7 310.9h0M296.7 297.8h0M283.2 297.3h0M289.8 305.4h0M287.9 312.2h0M278.8 297.2h0M300.7 306.1h0M281 300.9h0M265.4 319.1h0M267.7 303h0M287.6 312.2h0M285.7 307.5h0M287.8 294.8h0M296.8 298.1h0M296.5 308.3h0M298.8 294.5h0M287.3 299.4h0M272.4 321.5h0M269.6 301.8h0M268.2 315h0M288 298.3h0M284.2 293.8h0M287.7 326.3h0M279.7 296.9h0M273.4 311.3h0M286.2 300.6h0M276.9 317.5h0M284.9 296h0M279.1 306h0M273.9 309.4h0M287.9 301.4h0M285 293.4h0M280.7 325.2h0M283.7 323.3h0M292.8 308.5h0M277.2 311.7h0M275.1 301.9h0M293.4 300.2h0M269.2 319.4h0M278.6 301.5h0M284.8 318.6h0M284.1 315.7h0M280.8 318.5h0M274.7 308.8h0M302 308h0M289.9 305.7h0M284.8 294.9h0M293 321.5h0M288.8 306.2h0M289.7 300.4h0M294.2 320.9h0M277.3 312.2h0M294 304.1h0M290.8 312.4h0M298.4 307.6h0M289.4 299.9h0M271.6 320.7h0M278.7 322.5h0M286 303.4h0M297.3 300.8h0M297.9 303.6h0M284.5 292.8h0M286 316h0M279.3 313.4h0M334.6 318.7h0M285 277h0M283.5 279h0"/><path stroke-opacity="0.95" d="M294.7 315.1h0M299.2 312.6h0M279.1 291.9h0M290.1 311.3h0M272.7 312.6h0M297.7 308h0M287.4 309.7h0M297.6 305.9h0M296.6 300.6h0M275.9 306.3h0M294.9 316.1h0M285.6 295.4h0M266.9 303.6h0M281.3 323.6h0M294.9 298.9h0M285 308.1h0M290.6 312h0M287.1 302.6h0M293.3 311.1h0M275.4 321.7h0M288.6 302.6h0M277.2 315h0M273.8 324.1h0M268.6 306.8h0M293.3 303.5h0M274.7 314.3h0M264.6 311.1h0M291.7 318.9h0M274.5 323h0M302.2 300.7h0M296.9 299.3h0M294.6 290.7h0M300.2 304.2h0M292.9 302.1h0M294.4 305h0M301.3 308.8h0M298.3 305.3h0M272.4 297.4h0M274.6 312.8h0M282 318.1h0M288.5 314.7h0M294.6 313.1h0M274 299.5h0M267.6 317.1h0M266.8 305.3h0M281.2 304.4h0M285.9 323.4h0M285.2 311.9h0M282.1 298.2h0M289.6 300.7h0M293.4 314h0M288.5 299.2h0M295.7 299.7h0M279.8 304.2h0M272.4 303.9h0M295.8 313.3h0M297.5 299.4h0M274.5 298.5h0M300.6 307.6h0M291 304.6h0M281.7 305.9h0M287.9 297.7h0M268.6 309.5h0M274.7 298.3h0M277.1 315h0M296.3 297.5h0"/><path d="M277.8 298.3h0M295.3 314.6h0M272 302.7h0M270.2 311.4h0M285.8 322.1h0M291.3 311.6h0M296.5 302.5h0M298.2 298.2h0M286.1 303.3h0M300.5 304.6h0M288 315.3h0M271.3 309.2h0M285 306.7h0M273.5 310.3h0M282.5 304.7h0M295.3 308.6h0M283.1 318.5h0M293.1 320.7h0M283.5 314.5h0M267.7 308h0M269.8 316.9h0M296.2 312.6h0M284.9 316.7h0M299.5 305h0M286.4 295.1h0M294.1 300.8h0M269.7 306.6h0M272.3 313.4h0M281.9 293.1h0M295.5 308.2h0M284.6 313.3h0M286.5 303.6h0M279.9 303.4h0M294.2 310.7h0M272.1 317h0M273.3 320.7h0M301.7 309.4h0M286.4 300.6h0M278 321.4h0M270.5 307h0M268.6 308.6h0M269.5 308.3h0M263 310.3h0M269.5 313.4h0"/></g><g stroke="#00008b" stroke-width="3.3" stroke-linecap="round" fill="none"><path stroke-opacity="0.75" d="M271.1 300.7h0M288.5 294.1h0M269.4 293.5h0"/><path stroke-opacity="0.8" d="M281.6 295.9h0M270 298h0M268.9 296.2h0M282.9 295.2h0M282 298.6h0"/><path stroke-opacity="0.85" d="M282.2 296.3h0M280.8 298.6h0M282 292.2h0"/><path stroke-opacity="0.9" d="M272.5 291.7h0M270.9 299.9h0"/><path stroke-opacity="0.95" d="M270.6 290.9h0M284.4 298.9h0M266 297h0M270.5 291.4h0M285.2 299h0M276.1 297.7h0M273.7 291.9h0"/><path d="M277.9 298.3h0M273.4 297.4h0"/></g><g stroke="#9a0505" stroke-width="3.3" stroke-linecap="round" fill="none"><path stroke-opacity="0.75" d="M320 307.2h0M300.5 321.5h0M291.5 318.3h0M324.1 300.6h0M305.6 300.7h0M294.6 322.5h0M295.1 313.7h0M311.3 299.2h0M299.7 307.6h0M286.9 320.3h0M316.5 306.4h0M306.9 300h0M293.2 311.3h0M295.1 314.5h0M298.9 314.2h0M292.4 326.9h0M317.7 307.9h0M315.9 301.4h0M309.1 322.9h0M300.7 323.2h0M303.4 300.2h0M290 324.6h0M300.6 327.4h0M297.8 327.7h0M295.3 324.3h0M287.6 320.4h0M294.4 329.9h0M309.4 310.4h0M305.1 320.7h0M290.5 329.6h0M310.6 310.2h0M293.6 311.6h0M312 308.2h0M320.2 314.1h0M314.6 308.5h0M299.5 311.3h0"/><path stroke-opacity="0.8" d="M310.2 319.5h0M297.4 304.9h0M317.4 320h0M297.4 303.8h0M299.3 303.2h0M315.6 300.6h0M299.5 303.7h0M315.4 323.2h0M300.9 299.5h0M288.8 321.2h0M318.2 320.2h0M293.8 323.7h0M323.3 305.1h0M299 327.4h0M311.8 300.2h0M309.7 299.9h0M315.4 302h0M306.6 324.9h0M297.7 317.6h0M305.5 322.7h0M300.1 310.9h0M310.2 298.2h0M311.8 311.3h0M317.2 315.9h0M312.3 300.8h0M312.7 297.8h0M321.4 302.7h0M307 321.7h0M310.3 306.4h0M297 318.7h0M312.3 300.9h0M301.7 300.9h0M287.8 321.6h0M312.4 306.1h0M305.8 312.8h0M299 316h0M297.5 306h0M294.2 329.9h0M319.7 311.9h0M293.2 324.2h0M320.7 307.9h0M312.6 320.2h0M314.9 313.4h0M304.9 328.7h0M304.6 302.3h0M290 319.7h0M305.9 324.4h0M297.5 328.5h0M305.5 322.6h0M308.9 304.4h0M311 310.4h0M293.6 310.1h0M292.7 316.9h0M301.8 313.3h0M290.9 313.5h0M319.2 294.7h0M315.1 324.9h0M305.2 301.1h0M289.7 311.6h0M304.2 326.5h0M298.1 322.8h0M312.5 309.1h0M317.1 315.1h0M299.7 323h0M319.3 309.6h0M301 321.4h0M311.1 310.2h0M323.1 306.6h0M293.2 308.7h0M294.4 318.4h0"/><path stroke-opacity="0.85" d="M306.4 303.1h0M296.4 307h0M308.1 318.8h0M317.7 300.9h0M299.3 327h0M303.6 299.2h0M290.1 325.1h0M299.4 307.4h0M312.6 319.2h0M312.7 307h0M313.6 297.9h0M299.1 301.4h0M316.2 307.6h0M307.2 297.4h0M299.4 306.7h0M300.5 308.6h0M290.8 320.4h0M323.3 305.8h0M306.6 321.6h0M312.9 317.6h0M302.4 325.4h0M305.3 302.5h0M319.6 305.8h0M309.4 323.3h0M321.8 297h0M298.7 312.1h0M317.5 305h0M291.6 319.4h0M306.1 303.1h0M322.4 311.6h0M316.8 320.4h0M312.1 315.9h0M294.5 326h0M316.2 309.4h0M308.1 312.5h0M311.9 323.2h0M307.2 313.1h0M304.2 301.5h0M320.6 313.5h0M289.6 317.3h0M308 323.9h0M306.7 322.9h0M324 312.2h0M320.9 310.7h0M319.6 314.7h0M291.9 325.1h0M315.6 308.7h0M310.9 315h0M310 322.8h0M312.6 298.4h0M308.1 328.8h0M314.9 307.1h0M308 315.8h0M318.8 309.8h0M315.7 308.7h0M294.8 321.8h0M302 306.5h0M294.8 311.1h0M314.6 301.5h0M320.5 311.5h0M307.3 297.4h0M318.4 311.8h0M308.5 329.5h0M306.4 305.9h0M309.8 326.5h0M321.2 301.3h0M304.9 310.2h0M318.4 311.8h0M316.5 317.7h0M289.7 322.5h0M309.4 318.8h0M311 295.9h0M320.2 315.9h0M289.8 323.3h0M307.1 326.6h0M298.2 308.6h0M300.9 331.5h0M299.5 314.6h0M304.3 301.4h0M302.6 307.8h0"/><path stroke-opacity="0.9" d="M320.9 314.3h0M289.4 309.3h0M317.2 297h0M304.1 315h0M307.8 303.9h0M323.1 302h0M290.5 319.6h0M302.5 321.6h0M293.2 317h0M314.6 316h0M305.8 327h0M299 316.3h0M299.9 311.5h0M321.3 306h0M313.9 305.6h0M314.2 320.2h0M316.9 315.4h0M311.8 309.5h0M310 320.2h0M302.5 307.9h0M299.3 309.3h0M302 329.2h0M315.9 296.6h0M318 306.7h0M302.3 307.9h0M322.8 301.9h0M295.2 329.1h0M299.6 319.1h0M303.5 300.8h0M295.6 314h0M317.5 309.4h0M304.9 314.7h0M303.3 326.9h0M304.5 301.1h0M291.8 325.4h0M319.7 309.6h0M305 320.7h0M306.9 323.8h0M314.8 310.6h0M307.3 317.7h0M305.6 307.1h0M308.9 320.8h0M307.4 299.4h0M316.7 316.7h0M306.1 327.2h0M318.8 302h0M307.6 307.1h0M311.8 295.5h0M290.4 323.2h0M322.5 306.6h0M307.8 320.8h0M290.5 316.2h0M302.1 325.7h0M299.5 303.3h0M318.3 313.6h0M306.8 299.7h0M287.9 322.6h0M293.6 321.2h0M301.8 325.9h0M318.1 295h0M294.8 322.6h0M313.6 325.3h0M307.6 302.7h0M318.8 308.8h0M307 310.7h0M298.6 323.1h0M254 300h0M257 302h0M260 305h0M256 306h0M259.5 300.5h0M258 316h0M262 318h0M264 316.5h0M283 287h0M285.5 288.5h0M286.5 286.5h0M306.5 271.5h0"/><path stroke-opacity="0.95" d="M289.1 312.2h0M302.3 302.9h0M314.7 318.7h0M290.5 317.3h0M308.2 317.4h0M301.5 316.5h0M315.9 307.1h0M305.9 304.5h0M302.1 297.6h0M319.3 319.2h0M295.1 307.2h0M294.9 313.5h0M316.1 309.4h0M299.7 317.2h0M292.3 323h0M306.7 307.8h0M320.7 308.8h0M304.1 322.3h0M318.8 311.2h0M316.6 296.7h0M288.8 314.5h0M293.8 306.2h0M294.7 318.9h0M312.9 312.5h0M320.2 306.1h0M312.4 323.3h0M300.6 308h0M320.3 314.6h0M317 319h0M304.9 322.1h0M310.9 318.7h0M298.1 328.2h0M296 308.6h0M294.1 319.1h0M298.4 315.8h0M296.8 319.7h0M295.3 304.7h0M302.9 302.7h0M289.2 316.3h0M294.5 306.7h0M311.2 306.2h0M304.5 325.6h0M292.2 320.4h0M307 320.4h0M312.1 312.6h0M309.2 304h0M302.6 309.4h0M312.7 304.5h0M314.7 306.2h0M303.9 322.2h0M319.8 301.1h0M306.8 300.9h0M316.7 306.9h0M301.1 331.3h0M312.3 305.2h0M294.9 316.3h0M322.3 308.8h0M307.4 321.2h0M312.7 314.3h0M311.7 302.6h0M318.7 317.2h0M296.5 318.4h0M321 309.3h0M311.3 322.4h0M304.2 302.8h0M296.5 321.8h0M312.4 309.7h0M313.7 298.1h0M290.1 317.4h0M321.6 312.9h0M311.9 312.4h0M322.7 303.4h0M310.4 321.8h0M308.5 324h0M310.9 297.5h0M314.1 305.2h0M304 305.9h0M309.9 318.8h0M311.2 312.4h0M307.5 316.4h0M310.1 298.3h0M308 320.1h0M306.4 298.6h0M301.1 312.1h0M299.5 314.5h0M314.9 300.3h0M325.5 309.4h0M309.9 303.6h0M318.8 305.8h0M299.4 315.7h0M312.9 312.7h0M315.9 312.1h0M288.1 316.4h0M300.5 307.1h0"/><path d="M302.6 320.8h0M305.9 307.3h0M318.5 306.2h0M317.9 298.3h0M313.8 310.8h0M312.3 304.1h0M301.4 307.2h0M295.1 310.8h0M300.2 304.3h0M316.4 298h0M296.7 307.8h0M320.6 309.7h0M316.7 313.8h0M317.3 312.8h0M289.2 318.7h0M314.7 310.7h0M320.7 309.4h0M298.9 328.1h0M313.9 307.1h0M319.9 319.7h0M300.7 324.8h0M293.7 324.2h0M310.8 311.3h0M290.2 323.8h0M318.5 323h0M296.7 317h0M305.6 309.1h0M317.9 295.7h0M292.9 309.6h0M306.5 322.2h0M298.6 325.8h0M319.2 302.4h0M300.5 326.6h0M314 295.8h0M301.4 323.3h0M323.9 312h0M301.1 312h0M304.6 304.1h0M301.1 316.4h0"/></g><g stroke="#00008b" stroke-width="3.3" stroke-linecap="round" fill="none"><path stroke-opacity="0.9" d="M319.5 309.5h0M322 311h0M325 309h0M323.5 312.5h0M327 311h0M321 307.5h0M324 298h0"/></g><g stroke="#0a84ff" stroke-width="3.3" stroke-linecap="round" fill="none"><path stroke-opacity="0.85" d="M322.9 269.6h0M316.9 275.3h0M313 274.5h0M315 268.6h0M315.9 264.9h0M314.4 272.8h0M317.9 271.3h0M317.5 265.7h0M316.1 273.3h0M321.7 272.6h0M315.7 278.9h0M310.4 279.4h0M315 280.8h0M310.1 277.6h0M310.2 282.5h0M313.9 272.7h0M317.2 276.9h0M308.7 280.1h0M313.5 277.9h0M307.7 282.2h0M310 274.8h0M312.5 282.7h0M315.4 273.1h0"/><path stroke-opacity="0.9" d="M318.2 273.1h0M316 273.8h0M316.3 270.6h0M319 273.7h0M319.3 269.8h0M313.2 266.1h0M321.1 268.7h0M318.6 268.3h0M313.6 273.7h0M318.2 271.5h0M314.9 264.3h0M316.7 273.3h0M313.8 267.5h0M321 265.4h0M310.4 278h0M313.4 281.3h0M309.3 280.8h0M312.7 282.9h0M317.5 280.7h0M308.7 275.5h0M306.7 275.8h0M317.2 279.9h0M315.9 274h0M314.2 282.3h0M312.7 274.8h0M317 277.4h0M316.8 277.1h0M312.4 273.7h0M317.9 277.9h0M310.7 276.5h0M310.7 277.6h0"/><path stroke-opacity="0.95" d="M318.6 272.2h0M314.1 268.6h0M321.8 271.3h0M315 264.4h0M320.7 266.6h0M317.9 266.4h0M320 270.6h0M321.9 268.1h0M313.9 279.8h0M317.4 274.3h0M318.1 279.9h0M317.7 282h0M310.8 282.7h0M307.4 279.1h0M309.3 281.6h0M309.6 279.7h0M314.2 281.6h0M317.4 276.3h0M319.7 277.6h0M313.2 277.3h0M316.7 278.6h0"/><path d="M322.3 270.9h0M319.4 268.2h0M315 267.6h0M319.3 275.3h0M321.1 272.9h0M317.7 269h0M317.5 265.4h0M322.2 270.4h0M319.6 271.6h0M315.9 265.5h0M319.4 270.9h0M313 280.7h0M306.6 282.7h0M316.6 274.1h0M315.2 276h0M315.2 282.3h0M312.8 277.7h0M314 276.5h0M315.6 282.8h0M312.6 276h0"/></g>
<rect x="148.5" y="220.2" width="113.7" height="45" fill="#fff" stroke="#808080" stroke-width="0.8"/>
<circle cx="154" cy="227.6" r="1.5" fill="#9a0505"/>
<circle cx="159.5" cy="226.8" r="1.5" fill="#9a0505"/>
<circle cx="165.3" cy="227.8" r="1.5" fill="#9a0505"/>
<text class="lg" x="174.1" y="230.1">Contamination</text>
<circle cx="154" cy="235.3" r="1.5" fill="#00008b"/>
<circle cx="159.5" cy="234.5" r="1.5" fill="#00008b"/>
<circle cx="165.3" cy="235.5" r="1.5" fill="#00008b"/>
<text class="lg" x="174.1" y="237.8">Floating</text>
<circle cx="154" cy="243" r="1.5" fill="#0a84ff"/>
<circle cx="159.5" cy="242.2" r="1.5" fill="#0a84ff"/>
<circle cx="165.3" cy="243.2" r="1.5" fill="#0a84ff"/>
<text class="lg" x="174.1" y="245.5">Free metal</text>
<circle cx="154" cy="250.6" r="1.5" fill="#0cfa72"/>
<circle cx="159.5" cy="249.8" r="1.5" fill="#0cfa72"/>
<circle cx="165.3" cy="250.8" r="1.5" fill="#0cfa72"/>
<text class="lg" x="174.1" y="253.1">Protrusion_conductor</text>
<circle cx="154" cy="258.3" r="1.5" fill="#ff8c00"/>
<circle cx="159.5" cy="257.5" r="1.5" fill="#ff8c00"/>
<circle cx="165.3" cy="258.5" r="1.5" fill="#ff8c00"/>
<text class="lg" x="174.1" y="260.8">Protrusion_tank</text>
<text class="cap" x="285.5" y="422.3">(c)</text>
</svg>
</body></html>
